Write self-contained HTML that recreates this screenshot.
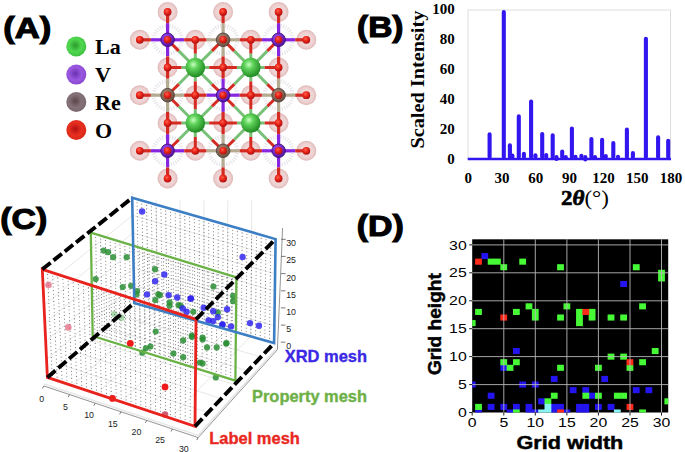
<!DOCTYPE html><html><head><meta charset="utf-8"><style>html,body{margin:0;padding:0;background:#fff;width:685px;height:452px;overflow:hidden}svg{display:block}</style></head><body>
<svg width="685" height="452" viewBox="0 0 685 452">
<defs>
<radialGradient id="gLa" cx="40%" cy="35%" r="65%"><stop offset="0" stop-color="#c8ffc0"/><stop offset="0.35" stop-color="#5fd35a"/><stop offset="1" stop-color="#1f8a22"/></radialGradient>
<radialGradient id="gV" cx="40%" cy="35%" r="65%"><stop offset="0" stop-color="#a050ff"/><stop offset="1" stop-color="#5010a0"/></radialGradient>
<radialGradient id="gRe" cx="40%" cy="35%" r="65%"><stop offset="0" stop-color="#a88c78"/><stop offset="1" stop-color="#6a5040"/></radialGradient>
<radialGradient id="gO" cx="40%" cy="35%" r="65%"><stop offset="0" stop-color="#ff6050"/><stop offset="0.5" stop-color="#e82418"/><stop offset="1" stop-color="#b01010"/></radialGradient>
<radialGradient id="gLLa" cx="45%" cy="45%" r="55%"><stop offset="0" stop-color="#2a9a2a"/><stop offset="0.6" stop-color="#50d850"/><stop offset="1" stop-color="#40c040"/></radialGradient>
<radialGradient id="gLV" cx="45%" cy="45%" r="55%"><stop offset="0" stop-color="#6a30b0"/><stop offset="0.6" stop-color="#9a58e0"/><stop offset="1" stop-color="#8a4ad0"/></radialGradient>
<radialGradient id="gLRe" cx="45%" cy="45%" r="55%"><stop offset="0" stop-color="#5a4448"/><stop offset="0.6" stop-color="#85727a"/><stop offset="1" stop-color="#7a686e"/></radialGradient>
<radialGradient id="gLO" cx="45%" cy="45%" r="55%"><stop offset="0" stop-color="#b01010"/><stop offset="0.6" stop-color="#e83020"/><stop offset="1" stop-color="#d82818"/></radialGradient>
<radialGradient id="gHalo" cx="50%" cy="50%" r="50%"><stop offset="0" stop-color="#f3dede" stop-opacity="0.8"/><stop offset="0.75" stop-color="#e8c4c4" stop-opacity="0.8"/><stop offset="1" stop-color="#d8a8a8" stop-opacity="0.85"/></radialGradient>
</defs>
<text x="3.2" y="38.4" font-family="Liberation Sans" font-weight="bold" font-size="29.5" stroke="#000" stroke-width="1.1" textLength="48" lengthAdjust="spacingAndGlyphs">(A)</text>
<circle cx="76.3" cy="46.4" r="10" fill="url(#gLLa)"/>
<text x="95" y="54.0" font-family="Liberation Serif" font-weight="bold" font-size="22">La</text>
<circle cx="76.3" cy="74.6" r="10" fill="url(#gLV)"/>
<text x="95" y="82.19999999999999" font-family="Liberation Serif" font-weight="bold" font-size="22">V</text>
<circle cx="76.3" cy="102" r="10" fill="url(#gLRe)"/>
<text x="95" y="109.6" font-family="Liberation Serif" font-weight="bold" font-size="22">Re</text>
<circle cx="76.3" cy="130" r="10" fill="url(#gLO)"/>
<text x="95" y="137.6" font-family="Liberation Serif" font-weight="bold" font-size="22">O</text>
<circle cx="139.8" cy="39.8" r="10" fill="url(#gHalo)"/>
<circle cx="139.8" cy="95.2" r="10" fill="url(#gHalo)"/>
<circle cx="139.8" cy="150.8" r="10" fill="url(#gHalo)"/>
<circle cx="167.6" cy="12.0" r="10" fill="url(#gHalo)"/>
<circle cx="167.6" cy="67.5" r="10" fill="url(#gHalo)"/>
<circle cx="167.6" cy="123.0" r="10" fill="url(#gHalo)"/>
<circle cx="167.6" cy="178.5" r="10" fill="url(#gHalo)"/>
<circle cx="195.3" cy="39.8" r="10" fill="url(#gHalo)"/>
<circle cx="195.3" cy="95.2" r="10" fill="url(#gHalo)"/>
<circle cx="195.3" cy="150.8" r="10" fill="url(#gHalo)"/>
<circle cx="223.1" cy="12.0" r="10" fill="url(#gHalo)"/>
<circle cx="223.1" cy="67.5" r="10" fill="url(#gHalo)"/>
<circle cx="223.1" cy="123.0" r="10" fill="url(#gHalo)"/>
<circle cx="223.1" cy="178.5" r="10" fill="url(#gHalo)"/>
<circle cx="250.8" cy="39.8" r="10" fill="url(#gHalo)"/>
<circle cx="250.8" cy="95.2" r="10" fill="url(#gHalo)"/>
<circle cx="250.8" cy="150.8" r="10" fill="url(#gHalo)"/>
<circle cx="278.6" cy="12.0" r="10" fill="url(#gHalo)"/>
<circle cx="278.6" cy="67.5" r="10" fill="url(#gHalo)"/>
<circle cx="278.6" cy="123.0" r="10" fill="url(#gHalo)"/>
<circle cx="278.6" cy="178.5" r="10" fill="url(#gHalo)"/>
<circle cx="306.3" cy="39.8" r="10" fill="url(#gHalo)"/>
<circle cx="306.3" cy="95.2" r="10" fill="url(#gHalo)"/>
<circle cx="306.3" cy="150.8" r="10" fill="url(#gHalo)"/>
<circle cx="167.6" cy="39.8" r="14" fill="none" stroke="#e4e0e8" stroke-width="4" stroke-dasharray="1 1.5"/>
<circle cx="167.6" cy="95.2" r="14" fill="none" stroke="#e4e0e8" stroke-width="4" stroke-dasharray="1 1.5"/>
<circle cx="167.6" cy="150.8" r="14" fill="none" stroke="#e4e0e8" stroke-width="4" stroke-dasharray="1 1.5"/>
<circle cx="223.1" cy="39.8" r="14" fill="none" stroke="#e4e0e8" stroke-width="4" stroke-dasharray="1 1.5"/>
<circle cx="223.1" cy="95.2" r="14" fill="none" stroke="#e4e0e8" stroke-width="4" stroke-dasharray="1 1.5"/>
<circle cx="223.1" cy="150.8" r="14" fill="none" stroke="#e4e0e8" stroke-width="4" stroke-dasharray="1 1.5"/>
<circle cx="278.6" cy="39.8" r="14" fill="none" stroke="#e4e0e8" stroke-width="4" stroke-dasharray="1 1.5"/>
<circle cx="278.6" cy="95.2" r="14" fill="none" stroke="#e4e0e8" stroke-width="4" stroke-dasharray="1 1.5"/>
<circle cx="278.6" cy="150.8" r="14" fill="none" stroke="#e4e0e8" stroke-width="4" stroke-dasharray="1 1.5"/>
<line x1="195.3" y1="67.5" x2="209.2" y2="67.5" stroke="#78c078" stroke-width="3.0"/>
<line x1="209.2" y1="67.5" x2="223.1" y2="67.5" stroke="#d42a22" stroke-width="3.0"/>
<line x1="195.3" y1="67.5" x2="181.4" y2="67.5" stroke="#78c078" stroke-width="3.0"/>
<line x1="181.4" y1="67.5" x2="167.6" y2="67.5" stroke="#d42a22" stroke-width="3.0"/>
<line x1="195.3" y1="67.5" x2="195.3" y2="81.4" stroke="#78c078" stroke-width="3.0"/>
<line x1="195.3" y1="81.4" x2="195.3" y2="95.2" stroke="#d42a22" stroke-width="3.0"/>
<line x1="195.3" y1="67.5" x2="195.3" y2="53.6" stroke="#78c078" stroke-width="3.0"/>
<line x1="195.3" y1="53.6" x2="195.3" y2="39.8" stroke="#d42a22" stroke-width="3.0"/>
<line x1="195.3" y1="67.5" x2="212.0" y2="84.2" stroke="#78c078" stroke-width="3.0"/>
<line x1="212.0" y1="84.2" x2="223.1" y2="95.2" stroke="#d42a22" stroke-width="3.0"/>
<line x1="195.3" y1="67.5" x2="178.7" y2="84.2" stroke="#78c078" stroke-width="3.0"/>
<line x1="178.7" y1="84.2" x2="167.6" y2="95.2" stroke="#d42a22" stroke-width="3.0"/>
<line x1="195.3" y1="67.5" x2="212.0" y2="50.9" stroke="#78c078" stroke-width="3.0"/>
<line x1="212.0" y1="50.9" x2="223.1" y2="39.8" stroke="#d42a22" stroke-width="3.0"/>
<line x1="195.3" y1="67.5" x2="178.7" y2="50.9" stroke="#78c078" stroke-width="3.0"/>
<line x1="178.7" y1="50.9" x2="167.6" y2="39.8" stroke="#d42a22" stroke-width="3.0"/>
<line x1="195.3" y1="123.0" x2="209.2" y2="123.0" stroke="#78c078" stroke-width="3.0"/>
<line x1="209.2" y1="123.0" x2="223.1" y2="123.0" stroke="#d42a22" stroke-width="3.0"/>
<line x1="195.3" y1="123.0" x2="181.4" y2="123.0" stroke="#78c078" stroke-width="3.0"/>
<line x1="181.4" y1="123.0" x2="167.6" y2="123.0" stroke="#d42a22" stroke-width="3.0"/>
<line x1="195.3" y1="123.0" x2="195.3" y2="136.9" stroke="#78c078" stroke-width="3.0"/>
<line x1="195.3" y1="136.9" x2="195.3" y2="150.8" stroke="#d42a22" stroke-width="3.0"/>
<line x1="195.3" y1="123.0" x2="195.3" y2="109.1" stroke="#78c078" stroke-width="3.0"/>
<line x1="195.3" y1="109.1" x2="195.3" y2="95.2" stroke="#d42a22" stroke-width="3.0"/>
<line x1="195.3" y1="123.0" x2="212.0" y2="139.7" stroke="#78c078" stroke-width="3.0"/>
<line x1="212.0" y1="139.7" x2="223.1" y2="150.8" stroke="#d42a22" stroke-width="3.0"/>
<line x1="195.3" y1="123.0" x2="178.7" y2="139.7" stroke="#78c078" stroke-width="3.0"/>
<line x1="178.7" y1="139.7" x2="167.6" y2="150.8" stroke="#d42a22" stroke-width="3.0"/>
<line x1="195.3" y1="123.0" x2="212.0" y2="106.3" stroke="#78c078" stroke-width="3.0"/>
<line x1="212.0" y1="106.3" x2="223.1" y2="95.2" stroke="#d42a22" stroke-width="3.0"/>
<line x1="195.3" y1="123.0" x2="178.7" y2="106.3" stroke="#78c078" stroke-width="3.0"/>
<line x1="178.7" y1="106.3" x2="167.6" y2="95.2" stroke="#d42a22" stroke-width="3.0"/>
<line x1="250.8" y1="67.5" x2="264.7" y2="67.5" stroke="#78c078" stroke-width="3.0"/>
<line x1="264.7" y1="67.5" x2="278.6" y2="67.5" stroke="#d42a22" stroke-width="3.0"/>
<line x1="250.8" y1="67.5" x2="236.9" y2="67.5" stroke="#78c078" stroke-width="3.0"/>
<line x1="236.9" y1="67.5" x2="223.1" y2="67.5" stroke="#d42a22" stroke-width="3.0"/>
<line x1="250.8" y1="67.5" x2="250.8" y2="81.4" stroke="#78c078" stroke-width="3.0"/>
<line x1="250.8" y1="81.4" x2="250.8" y2="95.2" stroke="#d42a22" stroke-width="3.0"/>
<line x1="250.8" y1="67.5" x2="250.8" y2="53.6" stroke="#78c078" stroke-width="3.0"/>
<line x1="250.8" y1="53.6" x2="250.8" y2="39.8" stroke="#d42a22" stroke-width="3.0"/>
<line x1="250.8" y1="67.5" x2="267.4" y2="84.2" stroke="#78c078" stroke-width="3.0"/>
<line x1="267.4" y1="84.2" x2="278.6" y2="95.2" stroke="#d42a22" stroke-width="3.0"/>
<line x1="250.8" y1="67.5" x2="234.2" y2="84.2" stroke="#78c078" stroke-width="3.0"/>
<line x1="234.2" y1="84.2" x2="223.1" y2="95.2" stroke="#d42a22" stroke-width="3.0"/>
<line x1="250.8" y1="67.5" x2="267.4" y2="50.9" stroke="#78c078" stroke-width="3.0"/>
<line x1="267.4" y1="50.9" x2="278.6" y2="39.8" stroke="#d42a22" stroke-width="3.0"/>
<line x1="250.8" y1="67.5" x2="234.2" y2="50.9" stroke="#78c078" stroke-width="3.0"/>
<line x1="234.2" y1="50.9" x2="223.1" y2="39.8" stroke="#d42a22" stroke-width="3.0"/>
<line x1="250.8" y1="123.0" x2="264.7" y2="123.0" stroke="#78c078" stroke-width="3.0"/>
<line x1="264.7" y1="123.0" x2="278.6" y2="123.0" stroke="#d42a22" stroke-width="3.0"/>
<line x1="250.8" y1="123.0" x2="236.9" y2="123.0" stroke="#78c078" stroke-width="3.0"/>
<line x1="236.9" y1="123.0" x2="223.1" y2="123.0" stroke="#d42a22" stroke-width="3.0"/>
<line x1="250.8" y1="123.0" x2="250.8" y2="136.9" stroke="#78c078" stroke-width="3.0"/>
<line x1="250.8" y1="136.9" x2="250.8" y2="150.8" stroke="#d42a22" stroke-width="3.0"/>
<line x1="250.8" y1="123.0" x2="250.8" y2="109.1" stroke="#78c078" stroke-width="3.0"/>
<line x1="250.8" y1="109.1" x2="250.8" y2="95.2" stroke="#d42a22" stroke-width="3.0"/>
<line x1="250.8" y1="123.0" x2="267.4" y2="139.7" stroke="#78c078" stroke-width="3.0"/>
<line x1="267.4" y1="139.7" x2="278.6" y2="150.8" stroke="#d42a22" stroke-width="3.0"/>
<line x1="250.8" y1="123.0" x2="234.2" y2="139.7" stroke="#78c078" stroke-width="3.0"/>
<line x1="234.2" y1="139.7" x2="223.1" y2="150.8" stroke="#d42a22" stroke-width="3.0"/>
<line x1="250.8" y1="123.0" x2="267.4" y2="106.3" stroke="#78c078" stroke-width="3.0"/>
<line x1="267.4" y1="106.3" x2="278.6" y2="95.2" stroke="#d42a22" stroke-width="3.0"/>
<line x1="250.8" y1="123.0" x2="234.2" y2="106.3" stroke="#78c078" stroke-width="3.0"/>
<line x1="234.2" y1="106.3" x2="223.1" y2="95.2" stroke="#d42a22" stroke-width="3.0"/>
<line x1="167.6" y1="39.8" x2="184.2" y2="39.8" stroke="#8626e0" stroke-width="3.2"/>
<line x1="184.2" y1="39.8" x2="195.3" y2="39.8" stroke="#d42a22" stroke-width="3.2"/>
<line x1="167.6" y1="39.8" x2="150.9" y2="39.8" stroke="#8626e0" stroke-width="3.2"/>
<line x1="150.9" y1="39.8" x2="139.8" y2="39.8" stroke="#d42a22" stroke-width="3.2"/>
<line x1="167.6" y1="39.8" x2="167.6" y2="56.4" stroke="#8626e0" stroke-width="3.2"/>
<line x1="167.6" y1="56.4" x2="167.6" y2="67.5" stroke="#d42a22" stroke-width="3.2"/>
<line x1="167.6" y1="39.8" x2="167.6" y2="23.1" stroke="#8626e0" stroke-width="3.2"/>
<line x1="167.6" y1="23.1" x2="167.6" y2="12.0" stroke="#d42a22" stroke-width="3.2"/>
<line x1="167.6" y1="95.2" x2="184.2" y2="95.2" stroke="#b5aa92" stroke-width="3.2"/>
<line x1="184.2" y1="95.2" x2="195.3" y2="95.2" stroke="#d42a22" stroke-width="3.2"/>
<line x1="167.6" y1="95.2" x2="150.9" y2="95.2" stroke="#b5aa92" stroke-width="3.2"/>
<line x1="150.9" y1="95.2" x2="139.8" y2="95.2" stroke="#d42a22" stroke-width="3.2"/>
<line x1="167.6" y1="95.2" x2="167.6" y2="111.9" stroke="#b5aa92" stroke-width="3.2"/>
<line x1="167.6" y1="111.9" x2="167.6" y2="123.0" stroke="#d42a22" stroke-width="3.2"/>
<line x1="167.6" y1="95.2" x2="167.6" y2="78.6" stroke="#b5aa92" stroke-width="3.2"/>
<line x1="167.6" y1="78.6" x2="167.6" y2="67.5" stroke="#d42a22" stroke-width="3.2"/>
<line x1="167.6" y1="150.8" x2="184.2" y2="150.8" stroke="#8626e0" stroke-width="3.2"/>
<line x1="184.2" y1="150.8" x2="195.3" y2="150.8" stroke="#d42a22" stroke-width="3.2"/>
<line x1="167.6" y1="150.8" x2="150.9" y2="150.8" stroke="#8626e0" stroke-width="3.2"/>
<line x1="150.9" y1="150.8" x2="139.8" y2="150.8" stroke="#d42a22" stroke-width="3.2"/>
<line x1="167.6" y1="150.8" x2="167.6" y2="167.4" stroke="#8626e0" stroke-width="3.2"/>
<line x1="167.6" y1="167.4" x2="167.6" y2="178.5" stroke="#d42a22" stroke-width="3.2"/>
<line x1="167.6" y1="150.8" x2="167.6" y2="134.1" stroke="#8626e0" stroke-width="3.2"/>
<line x1="167.6" y1="134.1" x2="167.6" y2="123.0" stroke="#d42a22" stroke-width="3.2"/>
<line x1="223.1" y1="39.8" x2="239.7" y2="39.8" stroke="#b5aa92" stroke-width="3.2"/>
<line x1="239.7" y1="39.8" x2="250.8" y2="39.8" stroke="#d42a22" stroke-width="3.2"/>
<line x1="223.1" y1="39.8" x2="206.4" y2="39.8" stroke="#b5aa92" stroke-width="3.2"/>
<line x1="206.4" y1="39.8" x2="195.3" y2="39.8" stroke="#d42a22" stroke-width="3.2"/>
<line x1="223.1" y1="39.8" x2="223.1" y2="56.4" stroke="#b5aa92" stroke-width="3.2"/>
<line x1="223.1" y1="56.4" x2="223.1" y2="67.5" stroke="#d42a22" stroke-width="3.2"/>
<line x1="223.1" y1="39.8" x2="223.1" y2="23.1" stroke="#b5aa92" stroke-width="3.2"/>
<line x1="223.1" y1="23.1" x2="223.1" y2="12.0" stroke="#d42a22" stroke-width="3.2"/>
<line x1="223.1" y1="95.2" x2="239.7" y2="95.2" stroke="#8626e0" stroke-width="3.2"/>
<line x1="239.7" y1="95.2" x2="250.8" y2="95.2" stroke="#d42a22" stroke-width="3.2"/>
<line x1="223.1" y1="95.2" x2="206.4" y2="95.2" stroke="#8626e0" stroke-width="3.2"/>
<line x1="206.4" y1="95.2" x2="195.3" y2="95.2" stroke="#d42a22" stroke-width="3.2"/>
<line x1="223.1" y1="95.2" x2="223.1" y2="111.9" stroke="#8626e0" stroke-width="3.2"/>
<line x1="223.1" y1="111.9" x2="223.1" y2="123.0" stroke="#d42a22" stroke-width="3.2"/>
<line x1="223.1" y1="95.2" x2="223.1" y2="78.6" stroke="#8626e0" stroke-width="3.2"/>
<line x1="223.1" y1="78.6" x2="223.1" y2="67.5" stroke="#d42a22" stroke-width="3.2"/>
<line x1="223.1" y1="150.8" x2="239.7" y2="150.8" stroke="#b5aa92" stroke-width="3.2"/>
<line x1="239.7" y1="150.8" x2="250.8" y2="150.8" stroke="#d42a22" stroke-width="3.2"/>
<line x1="223.1" y1="150.8" x2="206.4" y2="150.8" stroke="#b5aa92" stroke-width="3.2"/>
<line x1="206.4" y1="150.8" x2="195.3" y2="150.8" stroke="#d42a22" stroke-width="3.2"/>
<line x1="223.1" y1="150.8" x2="223.1" y2="167.4" stroke="#b5aa92" stroke-width="3.2"/>
<line x1="223.1" y1="167.4" x2="223.1" y2="178.5" stroke="#d42a22" stroke-width="3.2"/>
<line x1="223.1" y1="150.8" x2="223.1" y2="134.1" stroke="#b5aa92" stroke-width="3.2"/>
<line x1="223.1" y1="134.1" x2="223.1" y2="123.0" stroke="#d42a22" stroke-width="3.2"/>
<line x1="278.6" y1="39.8" x2="295.2" y2="39.8" stroke="#8626e0" stroke-width="3.2"/>
<line x1="295.2" y1="39.8" x2="306.3" y2="39.8" stroke="#d42a22" stroke-width="3.2"/>
<line x1="278.6" y1="39.8" x2="261.9" y2="39.8" stroke="#8626e0" stroke-width="3.2"/>
<line x1="261.9" y1="39.8" x2="250.8" y2="39.8" stroke="#d42a22" stroke-width="3.2"/>
<line x1="278.6" y1="39.8" x2="278.6" y2="56.4" stroke="#8626e0" stroke-width="3.2"/>
<line x1="278.6" y1="56.4" x2="278.6" y2="67.5" stroke="#d42a22" stroke-width="3.2"/>
<line x1="278.6" y1="39.8" x2="278.6" y2="23.1" stroke="#8626e0" stroke-width="3.2"/>
<line x1="278.6" y1="23.1" x2="278.6" y2="12.0" stroke="#d42a22" stroke-width="3.2"/>
<line x1="278.6" y1="95.2" x2="295.2" y2="95.2" stroke="#b5aa92" stroke-width="3.2"/>
<line x1="295.2" y1="95.2" x2="306.3" y2="95.2" stroke="#d42a22" stroke-width="3.2"/>
<line x1="278.6" y1="95.2" x2="261.9" y2="95.2" stroke="#b5aa92" stroke-width="3.2"/>
<line x1="261.9" y1="95.2" x2="250.8" y2="95.2" stroke="#d42a22" stroke-width="3.2"/>
<line x1="278.6" y1="95.2" x2="278.6" y2="111.9" stroke="#b5aa92" stroke-width="3.2"/>
<line x1="278.6" y1="111.9" x2="278.6" y2="123.0" stroke="#d42a22" stroke-width="3.2"/>
<line x1="278.6" y1="95.2" x2="278.6" y2="78.6" stroke="#b5aa92" stroke-width="3.2"/>
<line x1="278.6" y1="78.6" x2="278.6" y2="67.5" stroke="#d42a22" stroke-width="3.2"/>
<line x1="278.6" y1="150.8" x2="295.2" y2="150.8" stroke="#8626e0" stroke-width="3.2"/>
<line x1="295.2" y1="150.8" x2="306.3" y2="150.8" stroke="#d42a22" stroke-width="3.2"/>
<line x1="278.6" y1="150.8" x2="261.9" y2="150.8" stroke="#8626e0" stroke-width="3.2"/>
<line x1="261.9" y1="150.8" x2="250.8" y2="150.8" stroke="#d42a22" stroke-width="3.2"/>
<line x1="278.6" y1="150.8" x2="278.6" y2="167.4" stroke="#8626e0" stroke-width="3.2"/>
<line x1="278.6" y1="167.4" x2="278.6" y2="178.5" stroke="#d42a22" stroke-width="3.2"/>
<line x1="278.6" y1="150.8" x2="278.6" y2="134.1" stroke="#8626e0" stroke-width="3.2"/>
<line x1="278.6" y1="134.1" x2="278.6" y2="123.0" stroke="#d42a22" stroke-width="3.2"/>
<circle cx="167.6" cy="39.8" r="6.8" fill="url(#gV)" stroke="#3a0a70" stroke-width="0.8"/>
<circle cx="167.6" cy="39.8" r="3.8" fill="url(#gO)"/>
<circle cx="167.6" cy="95.2" r="6.8" fill="url(#gRe)" stroke="#4a3838" stroke-width="0.8"/>
<circle cx="167.6" cy="95.2" r="3.8" fill="url(#gO)"/>
<circle cx="167.6" cy="150.8" r="6.8" fill="url(#gV)" stroke="#3a0a70" stroke-width="0.8"/>
<circle cx="167.6" cy="150.8" r="3.8" fill="url(#gO)"/>
<circle cx="223.1" cy="39.8" r="6.8" fill="url(#gRe)" stroke="#4a3838" stroke-width="0.8"/>
<circle cx="223.1" cy="39.8" r="3.8" fill="url(#gO)"/>
<circle cx="223.1" cy="95.2" r="6.8" fill="url(#gV)" stroke="#3a0a70" stroke-width="0.8"/>
<circle cx="223.1" cy="95.2" r="3.8" fill="url(#gO)"/>
<circle cx="223.1" cy="150.8" r="6.8" fill="url(#gRe)" stroke="#4a3838" stroke-width="0.8"/>
<circle cx="223.1" cy="150.8" r="3.8" fill="url(#gO)"/>
<circle cx="278.6" cy="39.8" r="6.8" fill="url(#gV)" stroke="#3a0a70" stroke-width="0.8"/>
<circle cx="278.6" cy="39.8" r="3.8" fill="url(#gO)"/>
<circle cx="278.6" cy="95.2" r="6.8" fill="url(#gRe)" stroke="#4a3838" stroke-width="0.8"/>
<circle cx="278.6" cy="95.2" r="3.8" fill="url(#gO)"/>
<circle cx="278.6" cy="150.8" r="6.8" fill="url(#gV)" stroke="#3a0a70" stroke-width="0.8"/>
<circle cx="278.6" cy="150.8" r="3.8" fill="url(#gO)"/>
<circle cx="195.3" cy="67.5" r="9.8" fill="url(#gLa)"/>
<circle cx="195.3" cy="123.0" r="9.8" fill="url(#gLa)"/>
<circle cx="250.8" cy="67.5" r="9.8" fill="url(#gLa)"/>
<circle cx="250.8" cy="123.0" r="9.8" fill="url(#gLa)"/>
<circle cx="139.8" cy="39.8" r="3.9" fill="url(#gO)"/>
<circle cx="139.8" cy="95.2" r="3.9" fill="url(#gO)"/>
<circle cx="139.8" cy="150.8" r="3.9" fill="url(#gO)"/>
<circle cx="167.6" cy="12.0" r="3.9" fill="url(#gO)"/>
<circle cx="167.6" cy="67.5" r="3.9" fill="url(#gO)"/>
<circle cx="167.6" cy="123.0" r="3.9" fill="url(#gO)"/>
<circle cx="167.6" cy="178.5" r="3.9" fill="url(#gO)"/>
<circle cx="195.3" cy="39.8" r="3.9" fill="url(#gO)"/>
<circle cx="195.3" cy="95.2" r="3.9" fill="url(#gO)"/>
<circle cx="195.3" cy="150.8" r="3.9" fill="url(#gO)"/>
<circle cx="223.1" cy="12.0" r="3.9" fill="url(#gO)"/>
<circle cx="223.1" cy="67.5" r="3.9" fill="url(#gO)"/>
<circle cx="223.1" cy="123.0" r="3.9" fill="url(#gO)"/>
<circle cx="223.1" cy="178.5" r="3.9" fill="url(#gO)"/>
<circle cx="250.8" cy="39.8" r="3.9" fill="url(#gO)"/>
<circle cx="250.8" cy="95.2" r="3.9" fill="url(#gO)"/>
<circle cx="250.8" cy="150.8" r="3.9" fill="url(#gO)"/>
<circle cx="278.6" cy="12.0" r="3.9" fill="url(#gO)"/>
<circle cx="278.6" cy="67.5" r="3.9" fill="url(#gO)"/>
<circle cx="278.6" cy="123.0" r="3.9" fill="url(#gO)"/>
<circle cx="278.6" cy="178.5" r="3.9" fill="url(#gO)"/>
<circle cx="306.3" cy="39.8" r="3.9" fill="url(#gO)"/>
<circle cx="306.3" cy="95.2" r="3.9" fill="url(#gO)"/>
<circle cx="306.3" cy="150.8" r="3.9" fill="url(#gO)"/>
<text x="357" y="36.8" font-family="Liberation Sans" font-weight="bold" font-size="29.5" stroke="#000" stroke-width="1.1" textLength="46.5" lengthAdjust="spacingAndGlyphs">(B)</text>
<rect x="468" y="10" width="202.5" height="149" fill="none" stroke="#dedede" stroke-width="1"/>
<line x1="489.6" y1="157" x2="489.6" y2="134.4" stroke="#3216f0" stroke-width="4.1" stroke-linecap="round"/>
<line x1="503.8" y1="157" x2="503.8" y2="12" stroke="#3216f0" stroke-width="4.1" stroke-linecap="round"/>
<line x1="509.9" y1="157" x2="509.9" y2="145.2" stroke="#3216f0" stroke-width="4.1" stroke-linecap="round"/>
<line x1="512.4" y1="157" x2="512.4" y2="155.5" stroke="#3216f0" stroke-width="4.1" stroke-linecap="round"/>
<line x1="518.8" y1="157" x2="518.8" y2="116.4" stroke="#3216f0" stroke-width="4.1" stroke-linecap="round"/>
<line x1="523.9" y1="157" x2="523.9" y2="153.8" stroke="#3216f0" stroke-width="4.1" stroke-linecap="round"/>
<line x1="531.1" y1="157" x2="531.1" y2="101.5" stroke="#3216f0" stroke-width="4.1" stroke-linecap="round"/>
<line x1="535.4" y1="157" x2="535.4" y2="155.2" stroke="#3216f0" stroke-width="4.1" stroke-linecap="round"/>
<line x1="542.2" y1="157" x2="542.2" y2="134" stroke="#3216f0" stroke-width="4.1" stroke-linecap="round"/>
<line x1="546.2" y1="157" x2="546.2" y2="155" stroke="#3216f0" stroke-width="4.1" stroke-linecap="round"/>
<line x1="552.7" y1="157" x2="552.7" y2="135.4" stroke="#3216f0" stroke-width="4.1" stroke-linecap="round"/>
<line x1="556.5" y1="157" x2="556.5" y2="159" stroke="#3216f0" stroke-width="4.1" stroke-linecap="round"/>
<line x1="562.2" y1="157" x2="562.2" y2="151.6" stroke="#3216f0" stroke-width="4.1" stroke-linecap="round"/>
<line x1="565.8" y1="157" x2="565.8" y2="157.4" stroke="#3216f0" stroke-width="4.1" stroke-linecap="round"/>
<line x1="571.9" y1="157" x2="571.9" y2="128.6" stroke="#3216f0" stroke-width="4.1" stroke-linecap="round"/>
<line x1="575.5" y1="157" x2="575.5" y2="156.7" stroke="#3216f0" stroke-width="4.1" stroke-linecap="round"/>
<line x1="581.4" y1="157" x2="581.4" y2="155.7" stroke="#3216f0" stroke-width="4.1" stroke-linecap="round"/>
<line x1="585.3" y1="157" x2="585.3" y2="159.5" stroke="#3216f0" stroke-width="4.1" stroke-linecap="round"/>
<line x1="591.4" y1="157" x2="591.4" y2="139.1" stroke="#3216f0" stroke-width="4.1" stroke-linecap="round"/>
<line x1="595" y1="157" x2="595" y2="157.4" stroke="#3216f0" stroke-width="4.1" stroke-linecap="round"/>
<line x1="602.1" y1="157" x2="602.1" y2="139.7" stroke="#3216f0" stroke-width="4.1" stroke-linecap="round"/>
<line x1="605.8" y1="157" x2="605.8" y2="156" stroke="#3216f0" stroke-width="4.1" stroke-linecap="round"/>
<line x1="613.3" y1="157" x2="613.3" y2="143" stroke="#3216f0" stroke-width="4.1" stroke-linecap="round"/>
<line x1="618" y1="157" x2="618" y2="156.7" stroke="#3216f0" stroke-width="4.1" stroke-linecap="round"/>
<line x1="626.9" y1="157" x2="626.9" y2="129.6" stroke="#3216f0" stroke-width="4.1" stroke-linecap="round"/>
<line x1="632.9" y1="157" x2="632.9" y2="153" stroke="#3216f0" stroke-width="4.1" stroke-linecap="round"/>
<line x1="645.9" y1="157" x2="645.9" y2="38.7" stroke="#3216f0" stroke-width="4.1" stroke-linecap="round"/>
<line x1="658.1" y1="157" x2="658.1" y2="137.3" stroke="#3216f0" stroke-width="4.1" stroke-linecap="round"/>
<line x1="668.2" y1="157" x2="668.2" y2="140.8" stroke="#3216f0" stroke-width="4.1" stroke-linecap="round"/>
<line x1="467.7" y1="159" x2="671" y2="159" stroke="#3216f0" stroke-width="2.6"/>
<text x="454.7" y="14.4" text-anchor="end" font-family="Liberation Serif" font-weight="bold" font-size="15">100</text>
<text x="454.7" y="44.3" text-anchor="end" font-family="Liberation Serif" font-weight="bold" font-size="15">80</text>
<text x="454.7" y="74.2" text-anchor="end" font-family="Liberation Serif" font-weight="bold" font-size="15">60</text>
<text x="454.7" y="104.1" text-anchor="end" font-family="Liberation Serif" font-weight="bold" font-size="15">40</text>
<text x="454.7" y="134.0" text-anchor="end" font-family="Liberation Serif" font-weight="bold" font-size="15">20</text>
<text x="454.7" y="163.9" text-anchor="end" font-family="Liberation Serif" font-weight="bold" font-size="15">0</text>
<text x="468.2" y="182.6" text-anchor="middle" font-family="Liberation Serif" font-weight="bold" font-size="15">0</text>
<text x="502.0" y="182.6" text-anchor="middle" font-family="Liberation Serif" font-weight="bold" font-size="15">30</text>
<text x="535.8" y="182.6" text-anchor="middle" font-family="Liberation Serif" font-weight="bold" font-size="15">60</text>
<text x="569.6" y="182.6" text-anchor="middle" font-family="Liberation Serif" font-weight="bold" font-size="15">90</text>
<text x="603.4" y="182.6" text-anchor="middle" font-family="Liberation Serif" font-weight="bold" font-size="15">120</text>
<text x="637.2" y="182.6" text-anchor="middle" font-family="Liberation Serif" font-weight="bold" font-size="15">150</text>
<text x="671.0" y="182.6" text-anchor="middle" font-family="Liberation Serif" font-weight="bold" font-size="15">180</text>
<text transform="translate(423.8,79.6) rotate(-90)" text-anchor="middle" font-family="Liberation Serif" font-weight="bold" font-size="19" textLength="138" lengthAdjust="spacingAndGlyphs">Scaled Intensity</text>
<text x="561" y="204.8" font-family="Liberation Serif" font-size="21" textLength="48" lengthAdjust="spacingAndGlyphs"><tspan font-weight="bold" stroke="#000" stroke-width="0.6">2</tspan><tspan font-weight="bold" font-style="italic" stroke="#000" stroke-width="0.7">θ</tspan><tspan>(°)</tspan></text>
<text x="356.8" y="235.7" font-family="Liberation Sans" font-weight="bold" font-size="29" stroke="#000" stroke-width="1.1" textLength="47.1" lengthAdjust="spacingAndGlyphs">(D)</text>
<rect x="472.2" y="239.3" width="196.0" height="173.2" fill="#000"/>
<svg x="472.2" y="239.3" width="196.0" height="173.2" viewBox="472.2 239.3 196.0 173.2" overflow="hidden">
<rect x="481.41" y="253.02" width="6.81" height="6.09" fill="#2414f0"/>
<rect x="620.24" y="280.96" width="6.81" height="6.09" fill="#2414f0"/>
<rect x="512.97" y="348.00" width="6.81" height="6.09" fill="#2414f0"/>
<rect x="500.34" y="364.76" width="6.81" height="6.09" fill="#2414f0"/>
<rect x="550.83" y="375.93" width="6.81" height="6.09" fill="#2414f0"/>
<rect x="468.80" y="381.52" width="6.81" height="6.09" fill="#2414f0"/>
<rect x="519.27" y="381.52" width="6.81" height="6.09" fill="#2414f0"/>
<rect x="531.89" y="381.52" width="6.81" height="6.09" fill="#2414f0"/>
<rect x="569.75" y="387.11" width="6.81" height="6.09" fill="#2414f0"/>
<rect x="582.38" y="387.11" width="6.81" height="6.09" fill="#2414f0"/>
<rect x="632.86" y="387.11" width="6.81" height="6.09" fill="#2414f0"/>
<rect x="645.47" y="387.11" width="6.81" height="6.09" fill="#2414f0"/>
<rect x="487.72" y="392.70" width="6.81" height="6.09" fill="#2414f0"/>
<rect x="588.68" y="392.70" width="6.81" height="6.09" fill="#2414f0"/>
<rect x="538.20" y="398.28" width="6.81" height="6.09" fill="#2414f0"/>
<rect x="475.10" y="409.46" width="6.81" height="6.09" fill="#2414f0"/>
<rect x="487.72" y="403.87" width="6.81" height="6.09" fill="#2414f0"/>
<rect x="500.34" y="403.87" width="6.81" height="6.09" fill="#2414f0"/>
<rect x="506.65" y="409.46" width="6.81" height="6.09" fill="#2414f0"/>
<rect x="512.97" y="403.87" width="6.81" height="6.09" fill="#2414f0"/>
<rect x="525.59" y="403.87" width="6.81" height="6.09" fill="#2414f0"/>
<rect x="525.59" y="409.46" width="6.81" height="6.09" fill="#2414f0"/>
<rect x="531.89" y="409.46" width="6.81" height="6.09" fill="#2414f0"/>
<rect x="550.83" y="403.87" width="6.81" height="6.09" fill="#2414f0"/>
<rect x="550.83" y="409.46" width="6.81" height="6.09" fill="#2414f0"/>
<rect x="557.13" y="403.87" width="6.81" height="6.09" fill="#2414f0"/>
<rect x="563.44" y="409.46" width="6.81" height="6.09" fill="#2414f0"/>
<rect x="576.06" y="403.87" width="6.81" height="6.09" fill="#2414f0"/>
<rect x="582.38" y="403.87" width="6.81" height="6.09" fill="#2414f0"/>
<rect x="576.06" y="409.46" width="6.81" height="6.09" fill="#2414f0"/>
<rect x="582.38" y="409.46" width="6.81" height="6.09" fill="#2414f0"/>
<rect x="595.00" y="403.87" width="6.81" height="6.09" fill="#2414f0"/>
<rect x="601.30" y="375.93" width="6.81" height="6.09" fill="#2414f0"/>
<rect x="607.62" y="403.87" width="6.81" height="6.09" fill="#2414f0"/>
<rect x="487.72" y="258.61" width="6.81" height="6.09" fill="#46fa36"/>
<rect x="494.03" y="258.61" width="6.81" height="6.09" fill="#46fa36"/>
<rect x="500.34" y="264.19" width="6.81" height="6.09" fill="#46fa36"/>
<rect x="519.27" y="258.61" width="6.81" height="6.09" fill="#46fa36"/>
<rect x="557.13" y="264.19" width="6.81" height="6.09" fill="#46fa36"/>
<rect x="632.86" y="264.19" width="6.81" height="6.09" fill="#46fa36"/>
<rect x="658.10" y="275.37" width="6.81" height="6.09" fill="#46fa36"/>
<rect x="658.10" y="269.78" width="6.81" height="6.09" fill="#46fa36"/>
<rect x="475.10" y="308.89" width="6.81" height="6.09" fill="#46fa36"/>
<rect x="512.97" y="308.89" width="6.81" height="6.09" fill="#46fa36"/>
<rect x="525.59" y="303.30" width="6.81" height="6.09" fill="#46fa36"/>
<rect x="531.89" y="314.48" width="6.81" height="6.09" fill="#46fa36"/>
<rect x="531.89" y="308.89" width="6.81" height="6.09" fill="#46fa36"/>
<rect x="557.13" y="314.48" width="6.81" height="6.09" fill="#46fa36"/>
<rect x="563.44" y="303.30" width="6.81" height="6.09" fill="#46fa36"/>
<rect x="468.80" y="320.06" width="6.81" height="6.09" fill="#46fa36"/>
<rect x="576.06" y="320.06" width="6.81" height="6.09" fill="#46fa36"/>
<rect x="576.06" y="314.48" width="6.81" height="6.09" fill="#46fa36"/>
<rect x="576.06" y="308.89" width="6.81" height="6.09" fill="#46fa36"/>
<rect x="588.68" y="314.48" width="6.81" height="6.09" fill="#46fa36"/>
<rect x="588.68" y="308.89" width="6.81" height="6.09" fill="#46fa36"/>
<rect x="607.62" y="314.48" width="6.81" height="6.09" fill="#46fa36"/>
<rect x="620.24" y="314.48" width="6.81" height="6.09" fill="#46fa36"/>
<rect x="639.16" y="303.30" width="6.81" height="6.09" fill="#46fa36"/>
<rect x="651.78" y="348.00" width="6.81" height="6.09" fill="#46fa36"/>
<rect x="607.62" y="353.59" width="6.81" height="6.09" fill="#46fa36"/>
<rect x="620.24" y="353.59" width="6.81" height="6.09" fill="#46fa36"/>
<rect x="639.16" y="359.17" width="6.81" height="6.09" fill="#46fa36"/>
<rect x="595.00" y="364.76" width="6.81" height="6.09" fill="#46fa36"/>
<rect x="626.54" y="364.76" width="6.81" height="6.09" fill="#46fa36"/>
<rect x="500.34" y="359.17" width="6.81" height="6.09" fill="#46fa36"/>
<rect x="512.97" y="359.17" width="6.81" height="6.09" fill="#46fa36"/>
<rect x="506.65" y="364.76" width="6.81" height="6.09" fill="#46fa36"/>
<rect x="557.13" y="364.76" width="6.81" height="6.09" fill="#46fa36"/>
<rect x="550.83" y="392.70" width="6.81" height="6.09" fill="#46fa36"/>
<rect x="544.51" y="398.28" width="6.81" height="6.09" fill="#46fa36"/>
<rect x="475.10" y="403.87" width="6.81" height="6.09" fill="#46fa36"/>
<rect x="512.97" y="409.46" width="6.81" height="6.09" fill="#46fa36"/>
<rect x="582.38" y="392.70" width="6.81" height="6.09" fill="#46fa36"/>
<rect x="595.00" y="392.70" width="6.81" height="6.09" fill="#46fa36"/>
<rect x="613.92" y="392.70" width="6.81" height="6.09" fill="#46fa36"/>
<rect x="620.24" y="392.70" width="6.81" height="6.09" fill="#46fa36"/>
<rect x="664.40" y="398.28" width="6.81" height="6.09" fill="#46fa36"/>
<rect x="639.16" y="409.46" width="6.81" height="6.09" fill="#46fa36"/>
<rect x="475.10" y="258.61" width="6.81" height="6.09" fill="#ff2a1a"/>
<rect x="500.34" y="314.48" width="6.81" height="6.09" fill="#ff2a1a"/>
<rect x="582.38" y="308.89" width="6.81" height="6.09" fill="#ff2a1a"/>
<rect x="626.54" y="359.17" width="6.81" height="6.09" fill="#ff2a1a"/>
<rect x="557.13" y="409.46" width="6.81" height="6.09" fill="#ff2a1a"/>
<rect x="626.54" y="403.87" width="6.81" height="6.09" fill="#ff2a1a"/>
<rect x="538.20" y="409.46" width="6.81" height="6.09" fill="#88f4f4"/>
<rect x="544.51" y="409.46" width="6.81" height="6.09" fill="#88f4f4"/>
<rect x="544.51" y="403.87" width="6.81" height="6.09" fill="#88f4f4"/>
<rect x="613.92" y="409.46" width="6.81" height="6.09" fill="#88f4f4"/>
</svg>
<line x1="503.8" y1="239.3" x2="503.8" y2="412.5" stroke="#b8b8b8" stroke-width="0.9"/>
<line x1="472.2" y1="384.6" x2="668.2" y2="384.6" stroke="#b8b8b8" stroke-width="0.9"/>
<line x1="535.3" y1="239.3" x2="535.3" y2="412.5" stroke="#b8b8b8" stroke-width="0.9"/>
<line x1="472.2" y1="356.6" x2="668.2" y2="356.6" stroke="#b8b8b8" stroke-width="0.9"/>
<line x1="566.9" y1="239.3" x2="566.9" y2="412.5" stroke="#b8b8b8" stroke-width="0.9"/>
<line x1="472.2" y1="328.7" x2="668.2" y2="328.7" stroke="#b8b8b8" stroke-width="0.9"/>
<line x1="598.4" y1="239.3" x2="598.4" y2="412.5" stroke="#b8b8b8" stroke-width="0.9"/>
<line x1="472.2" y1="300.8" x2="668.2" y2="300.8" stroke="#b8b8b8" stroke-width="0.9"/>
<line x1="630.0" y1="239.3" x2="630.0" y2="412.5" stroke="#b8b8b8" stroke-width="0.9"/>
<line x1="472.2" y1="272.8" x2="668.2" y2="272.8" stroke="#b8b8b8" stroke-width="0.9"/>
<line x1="661.5" y1="239.3" x2="661.5" y2="412.5" stroke="#b8b8b8" stroke-width="0.9"/>
<line x1="472.2" y1="244.9" x2="668.2" y2="244.9" stroke="#b8b8b8" stroke-width="0.9"/>
<line x1="472.2" y1="412.5" x2="472.2" y2="415.5" stroke="#000" stroke-width="0.9"/>
<text x="472.2" y="426.8" text-anchor="middle" font-family="Liberation Sans" font-size="13" textLength="8.8" lengthAdjust="spacingAndGlyphs">0</text>
<line x1="469.2" y1="412.5" x2="472.2" y2="412.5" stroke="#000" stroke-width="0.9"/>
<text x="466.7" y="417.1" text-anchor="end" font-family="Liberation Sans" font-size="13" textLength="8.8" lengthAdjust="spacingAndGlyphs">0</text>
<line x1="503.8" y1="412.5" x2="503.8" y2="415.5" stroke="#000" stroke-width="0.9"/>
<text x="503.8" y="426.8" text-anchor="middle" font-family="Liberation Sans" font-size="13" textLength="8.8" lengthAdjust="spacingAndGlyphs">5</text>
<line x1="469.2" y1="384.6" x2="472.2" y2="384.6" stroke="#000" stroke-width="0.9"/>
<text x="466.7" y="389.2" text-anchor="end" font-family="Liberation Sans" font-size="13" textLength="8.8" lengthAdjust="spacingAndGlyphs">5</text>
<line x1="535.3" y1="412.5" x2="535.3" y2="415.5" stroke="#000" stroke-width="0.9"/>
<text x="535.3" y="426.8" text-anchor="middle" font-family="Liberation Sans" font-size="13" textLength="17.6" lengthAdjust="spacingAndGlyphs">10</text>
<line x1="469.2" y1="356.6" x2="472.2" y2="356.6" stroke="#000" stroke-width="0.9"/>
<text x="466.7" y="361.2" text-anchor="end" font-family="Liberation Sans" font-size="13" textLength="17.6" lengthAdjust="spacingAndGlyphs">10</text>
<line x1="566.9" y1="412.5" x2="566.9" y2="415.5" stroke="#000" stroke-width="0.9"/>
<text x="566.9" y="426.8" text-anchor="middle" font-family="Liberation Sans" font-size="13" textLength="17.6" lengthAdjust="spacingAndGlyphs">15</text>
<line x1="469.2" y1="328.7" x2="472.2" y2="328.7" stroke="#000" stroke-width="0.9"/>
<text x="466.7" y="333.3" text-anchor="end" font-family="Liberation Sans" font-size="13" textLength="17.6" lengthAdjust="spacingAndGlyphs">15</text>
<line x1="598.4" y1="412.5" x2="598.4" y2="415.5" stroke="#000" stroke-width="0.9"/>
<text x="598.4" y="426.8" text-anchor="middle" font-family="Liberation Sans" font-size="13" textLength="17.6" lengthAdjust="spacingAndGlyphs">20</text>
<line x1="469.2" y1="300.8" x2="472.2" y2="300.8" stroke="#000" stroke-width="0.9"/>
<text x="466.7" y="305.4" text-anchor="end" font-family="Liberation Sans" font-size="13" textLength="17.6" lengthAdjust="spacingAndGlyphs">20</text>
<line x1="630.0" y1="412.5" x2="630.0" y2="415.5" stroke="#000" stroke-width="0.9"/>
<text x="630.0" y="426.8" text-anchor="middle" font-family="Liberation Sans" font-size="13" textLength="17.6" lengthAdjust="spacingAndGlyphs">25</text>
<line x1="469.2" y1="272.8" x2="472.2" y2="272.8" stroke="#000" stroke-width="0.9"/>
<text x="466.7" y="277.4" text-anchor="end" font-family="Liberation Sans" font-size="13" textLength="17.6" lengthAdjust="spacingAndGlyphs">25</text>
<line x1="661.5" y1="412.5" x2="661.5" y2="415.5" stroke="#000" stroke-width="0.9"/>
<text x="661.5" y="426.8" text-anchor="middle" font-family="Liberation Sans" font-size="13" textLength="17.6" lengthAdjust="spacingAndGlyphs">30</text>
<line x1="469.2" y1="244.9" x2="472.2" y2="244.9" stroke="#000" stroke-width="0.9"/>
<text x="466.7" y="249.5" text-anchor="end" font-family="Liberation Sans" font-size="13" textLength="17.6" lengthAdjust="spacingAndGlyphs">30</text>
<text x="516.5" y="448.5" font-family="Liberation Sans" font-weight="bold" font-size="17.5" stroke="#000" stroke-width="0.45" textLength="106.8" lengthAdjust="spacingAndGlyphs">Grid width</text>
<text transform="translate(441,375.1) rotate(-90)" font-family="Liberation Sans" font-weight="bold" font-size="17.5" stroke="#000" stroke-width="0.45" textLength="102" lengthAdjust="spacingAndGlyphs">Grid height</text>
<text x="0.3" y="229.1" font-family="Liberation Sans" font-weight="bold" font-size="30" stroke="#000" stroke-width="1.1" textLength="47" lengthAdjust="spacingAndGlyphs">(C)</text>
<path d="M72.0 385.5L157.6 309.6M61.9 365.0L208.2 412.4M46.5 359.4L134.0 285.4M96.6 393.7L180.9 316.3M76.4 352.6L221.4 398.6M45.7 341.4L133.6 267.9M121.2 401.9L204.2 323.0M90.8 340.1L234.6 384.7M44.8 323.4L133.2 250.3M145.8 410.0L227.5 329.7M105.3 327.7L247.7 370.8M44.0 305.3L132.9 232.8M170.4 418.1L250.8 336.4M119.8 315.3L260.9 357.0M43.1 287.3L132.5 215.3M42.3 263.3L42.3 269.3M90.8 226.6L90.8 232.6M132.2 191.8L132.2 197.8M156.1 200.5L156.1 204.7M180.0 200.5L180.0 211.6M203.9 200.5L203.9 218.4M227.8 200.5L227.8 225.3M251.7 200.5L251.7 232.2M132.5 215.3L275.4 256.4M156.1 204.7L157.6 309.6M132.9 232.8L275.1 273.8M180.0 211.6L180.9 316.3M133.2 250.3L274.9 291.1M203.9 218.4L204.2 323.0M133.6 267.9L274.6 308.4M227.8 225.3L227.5 329.7M134.0 285.4L274.4 325.8M251.7 232.2L250.8 336.4" stroke="#dcdcdc" stroke-width="0.7" fill="none"/>
<path d="M132.2 197.8h.01M132.3 201.3h.01M132.3 204.8h.01M132.4 208.3h.01M132.5 211.8h.01M132.5 215.3h.01M132.6 218.8h.01M132.7 222.3h.01M132.8 225.8h.01M132.8 229.3h.01M132.9 232.8h.01M133.0 236.3h.01M133.0 239.8h.01M133.1 243.3h.01M133.2 246.8h.01M133.2 250.3h.01M133.3 253.9h.01M133.4 257.4h.01M133.5 260.9h.01M133.5 264.4h.01M133.6 267.9h.01M133.7 271.4h.01M133.7 274.9h.01M133.8 278.4h.01M133.9 281.9h.01M134.0 285.4h.01M134.0 288.9h.01M134.1 292.4h.01M134.2 295.9h.01M134.2 299.4h.01M134.3 302.9h.01M137.0 199.2h.01M137.0 202.7h.01M137.1 206.2h.01M137.2 209.7h.01M137.2 213.2h.01M137.3 216.7h.01M137.4 220.2h.01M137.4 223.7h.01M137.5 227.2h.01M137.6 230.7h.01M137.6 234.2h.01M137.7 237.7h.01M137.8 241.2h.01M137.8 244.7h.01M137.9 248.2h.01M138.0 251.7h.01M138.0 255.2h.01M138.1 258.7h.01M138.2 262.2h.01M138.2 265.7h.01M138.3 269.2h.01M138.4 272.7h.01M138.4 276.2h.01M138.5 279.7h.01M138.6 283.2h.01M138.6 286.7h.01M138.7 290.2h.01M138.8 293.7h.01M138.8 297.2h.01M138.9 300.7h.01M139.0 304.2h.01M141.8 200.6h.01M141.8 204.1h.01M141.9 207.6h.01M141.9 211.1h.01M142.0 214.6h.01M142.1 218.1h.01M142.1 221.6h.01M142.2 225.1h.01M142.3 228.6h.01M142.3 232.1h.01M142.4 235.6h.01M142.4 239.1h.01M142.5 242.6h.01M142.6 246.1h.01M142.6 249.6h.01M142.7 253.1h.01M142.8 256.6h.01M142.8 260.1h.01M142.9 263.6h.01M142.9 267.1h.01M143.0 270.6h.01M143.1 274.1h.01M143.1 277.6h.01M143.2 281.1h.01M143.2 284.6h.01M143.3 288.1h.01M143.4 291.6h.01M143.4 295.1h.01M143.5 298.6h.01M143.6 302.1h.01M143.6 305.6h.01M146.5 201.9h.01M146.6 205.4h.01M146.7 208.9h.01M146.7 212.4h.01M146.8 215.9h.01M146.8 219.4h.01M146.9 222.9h.01M146.9 226.4h.01M147.0 229.9h.01M147.1 233.4h.01M147.1 236.9h.01M147.2 240.4h.01M147.2 243.9h.01M147.3 247.4h.01M147.4 250.9h.01M147.4 254.4h.01M147.5 257.9h.01M147.5 261.4h.01M147.6 264.9h.01M147.6 268.4h.01M147.7 271.9h.01M147.8 275.4h.01M147.8 278.9h.01M147.9 282.4h.01M147.9 285.9h.01M148.0 289.4h.01M148.0 292.9h.01M148.1 296.4h.01M148.2 299.9h.01M148.2 303.4h.01M148.3 306.9h.01M151.3 203.3h.01M151.4 206.8h.01M151.4 210.3h.01M151.5 213.8h.01M151.5 217.3h.01M151.6 220.8h.01M151.6 224.3h.01M151.7 227.8h.01M151.8 231.3h.01M151.8 234.8h.01M151.9 238.3h.01M151.9 241.8h.01M152.0 245.3h.01M152.0 248.8h.01M152.1 252.3h.01M152.1 255.8h.01M152.2 259.3h.01M152.2 262.8h.01M152.3 266.3h.01M152.3 269.8h.01M152.4 273.3h.01M152.5 276.8h.01M152.5 280.3h.01M152.6 283.8h.01M152.6 287.3h.01M152.7 290.8h.01M152.7 294.3h.01M152.8 297.8h.01M152.8 301.3h.01M152.9 304.8h.01M152.9 308.3h.01M156.1 204.7h.01M156.2 208.2h.01M156.2 211.7h.01M156.2 215.2h.01M156.3 218.7h.01M156.3 222.2h.01M156.4 225.7h.01M156.4 229.2h.01M156.5 232.7h.01M156.6 236.2h.01M156.6 239.7h.01M156.7 243.2h.01M156.7 246.6h.01M156.8 250.1h.01M156.8 253.6h.01M156.9 257.1h.01M156.9 260.6h.01M157.0 264.1h.01M157.0 267.6h.01M157.1 271.1h.01M157.1 274.6h.01M157.2 278.1h.01M157.2 281.6h.01M157.3 285.1h.01M157.3 288.6h.01M157.4 292.1h.01M157.4 295.6h.01M157.5 299.1h.01M157.5 302.6h.01M157.6 306.1h.01M157.6 309.6h.01M160.9 206.1h.01M160.9 209.6h.01M161.0 213.1h.01M161.0 216.5h.01M161.1 220.0h.01M161.1 223.5h.01M161.2 227.0h.01M161.2 230.5h.01M161.2 234.0h.01M161.3 237.5h.01M161.3 241.0h.01M161.4 244.5h.01M161.4 248.0h.01M161.5 251.5h.01M161.5 255.0h.01M161.6 258.5h.01M161.6 262.0h.01M161.7 265.5h.01M161.7 269.0h.01M161.8 272.5h.01M161.8 276.0h.01M161.8 279.5h.01M161.9 283.0h.01M161.9 286.5h.01M162.0 290.0h.01M162.0 293.5h.01M162.1 297.0h.01M162.1 300.5h.01M162.2 303.9h.01M162.2 307.4h.01M162.3 310.9h.01M165.7 207.4h.01M165.7 210.9h.01M165.7 214.4h.01M165.8 217.9h.01M165.8 221.4h.01M165.9 224.9h.01M165.9 228.4h.01M166.0 231.9h.01M166.0 235.4h.01M166.0 238.9h.01M166.1 242.4h.01M166.1 245.9h.01M166.2 249.4h.01M166.2 252.9h.01M166.2 256.4h.01M166.3 259.9h.01M166.3 263.4h.01M166.4 266.8h.01M166.4 270.3h.01M166.5 273.8h.01M166.5 277.3h.01M166.5 280.8h.01M166.6 284.3h.01M166.6 287.8h.01M166.7 291.3h.01M166.7 294.8h.01M166.8 298.3h.01M166.8 301.8h.01M166.8 305.3h.01M166.9 308.8h.01M166.9 312.3h.01M170.4 208.8h.01M170.5 212.3h.01M170.5 215.8h.01M170.6 219.3h.01M170.6 222.8h.01M170.6 226.3h.01M170.7 229.8h.01M170.7 233.3h.01M170.7 236.8h.01M170.8 240.3h.01M170.8 243.7h.01M170.9 247.2h.01M170.9 250.7h.01M170.9 254.2h.01M171.0 257.7h.01M171.0 261.2h.01M171.0 264.7h.01M171.1 268.2h.01M171.1 271.7h.01M171.2 275.2h.01M171.2 278.7h.01M171.2 282.2h.01M171.3 285.7h.01M171.3 289.2h.01M171.4 292.7h.01M171.4 296.2h.01M171.4 299.6h.01M171.5 303.1h.01M171.5 306.6h.01M171.5 310.1h.01M171.6 313.6h.01M175.2 210.2h.01M175.3 213.7h.01M175.3 217.2h.01M175.3 220.7h.01M175.4 224.2h.01M175.4 227.7h.01M175.4 231.1h.01M175.5 234.6h.01M175.5 238.1h.01M175.5 241.6h.01M175.6 245.1h.01M175.6 248.6h.01M175.6 252.1h.01M175.7 255.6h.01M175.7 259.1h.01M175.7 262.6h.01M175.8 266.1h.01M175.8 269.6h.01M175.8 273.1h.01M175.9 276.5h.01M175.9 280.0h.01M175.9 283.5h.01M176.0 287.0h.01M176.0 290.5h.01M176.0 294.0h.01M176.1 297.5h.01M176.1 301.0h.01M176.1 304.5h.01M176.2 308.0h.01M176.2 311.5h.01M176.2 315.0h.01M180.0 211.6h.01M180.0 215.1h.01M180.1 218.5h.01M180.1 222.0h.01M180.1 225.5h.01M180.2 229.0h.01M180.2 232.5h.01M180.2 236.0h.01M180.2 239.5h.01M180.3 243.0h.01M180.3 246.5h.01M180.3 250.0h.01M180.4 253.5h.01M180.4 257.0h.01M180.4 260.4h.01M180.4 263.9h.01M180.5 267.4h.01M180.5 270.9h.01M180.5 274.4h.01M180.6 277.9h.01M180.6 281.4h.01M180.6 284.9h.01M180.7 288.4h.01M180.7 291.9h.01M180.7 295.4h.01M180.8 298.8h.01M180.8 302.3h.01M180.8 305.8h.01M180.8 309.3h.01M180.9 312.8h.01M180.9 316.3h.01M184.8 212.9h.01M184.8 216.4h.01M184.8 219.9h.01M184.9 223.4h.01M184.9 226.9h.01M184.9 230.4h.01M184.9 233.9h.01M185.0 237.4h.01M185.0 240.9h.01M185.0 244.4h.01M185.0 247.8h.01M185.1 251.3h.01M185.1 254.8h.01M185.1 258.3h.01M185.1 261.8h.01M185.2 265.3h.01M185.2 268.8h.01M185.2 272.3h.01M185.2 275.8h.01M185.3 279.3h.01M185.3 282.7h.01M185.3 286.2h.01M185.4 289.7h.01M185.4 293.2h.01M185.4 296.7h.01M185.4 300.2h.01M185.5 303.7h.01M185.5 307.2h.01M185.5 310.7h.01M185.5 314.2h.01M185.6 317.6h.01M189.6 214.3h.01M189.6 217.8h.01M189.6 221.3h.01M189.6 224.8h.01M189.6 228.3h.01M189.7 231.8h.01M189.7 235.3h.01M189.7 238.7h.01M189.7 242.2h.01M189.8 245.7h.01M189.8 249.2h.01M189.8 252.7h.01M189.8 256.2h.01M189.8 259.7h.01M189.9 263.2h.01M189.9 266.6h.01M189.9 270.1h.01M189.9 273.6h.01M190.0 277.1h.01M190.0 280.6h.01M190.0 284.1h.01M190.0 287.6h.01M190.0 291.1h.01M190.1 294.6h.01M190.1 298.0h.01M190.1 301.5h.01M190.1 305.0h.01M190.2 308.5h.01M190.2 312.0h.01M190.2 315.5h.01M190.2 319.0h.01M194.3 215.7h.01M194.4 219.2h.01M194.4 222.7h.01M194.4 226.2h.01M194.4 229.6h.01M194.4 233.1h.01M194.4 236.6h.01M194.5 240.1h.01M194.5 243.6h.01M194.5 247.1h.01M194.5 250.6h.01M194.5 254.1h.01M194.6 257.5h.01M194.6 261.0h.01M194.6 264.5h.01M194.6 268.0h.01M194.6 271.5h.01M194.6 275.0h.01M194.7 278.5h.01M194.7 282.0h.01M194.7 285.4h.01M194.7 288.9h.01M194.7 292.4h.01M194.8 295.9h.01M194.8 299.4h.01M194.8 302.9h.01M194.8 306.4h.01M194.8 309.9h.01M194.8 313.3h.01M194.9 316.8h.01M194.9 320.3h.01M199.1 217.1h.01M199.1 220.6h.01M199.1 224.0h.01M199.2 227.5h.01M199.2 231.0h.01M199.2 234.5h.01M199.2 238.0h.01M199.2 241.5h.01M199.2 245.0h.01M199.2 248.4h.01M199.3 251.9h.01M199.3 255.4h.01M199.3 258.9h.01M199.3 262.4h.01M199.3 265.9h.01M199.3 269.4h.01M199.3 272.9h.01M199.4 276.3h.01M199.4 279.8h.01M199.4 283.3h.01M199.4 286.8h.01M199.4 290.3h.01M199.4 293.8h.01M199.4 297.3h.01M199.5 300.7h.01M199.5 304.2h.01M199.5 307.7h.01M199.5 311.2h.01M199.5 314.7h.01M199.5 318.2h.01M199.5 321.7h.01M203.9 218.4h.01M203.9 221.9h.01M203.9 225.4h.01M203.9 228.9h.01M203.9 232.4h.01M204.0 235.9h.01M204.0 239.4h.01M204.0 242.8h.01M204.0 246.3h.01M204.0 249.8h.01M204.0 253.3h.01M204.0 256.8h.01M204.0 260.3h.01M204.0 263.8h.01M204.0 267.2h.01M204.1 270.7h.01M204.1 274.2h.01M204.1 277.7h.01M204.1 281.2h.01M204.1 284.7h.01M204.1 288.1h.01M204.1 291.6h.01M204.1 295.1h.01M204.1 298.6h.01M204.1 302.1h.01M204.2 305.6h.01M204.2 309.1h.01M204.2 312.5h.01M204.2 316.0h.01M204.2 319.5h.01M204.2 323.0h.01M208.7 219.8h.01M208.7 223.3h.01M208.7 226.8h.01M208.7 230.3h.01M208.7 233.8h.01M208.7 237.2h.01M208.7 240.7h.01M208.7 244.2h.01M208.7 247.7h.01M208.7 251.2h.01M208.7 254.7h.01M208.7 258.1h.01M208.8 261.6h.01M208.8 265.1h.01M208.8 268.6h.01M208.8 272.1h.01M208.8 275.6h.01M208.8 279.1h.01M208.8 282.5h.01M208.8 286.0h.01M208.8 289.5h.01M208.8 293.0h.01M208.8 296.5h.01M208.8 300.0h.01M208.8 303.4h.01M208.8 306.9h.01M208.8 310.4h.01M208.8 313.9h.01M208.8 317.4h.01M208.9 320.9h.01M208.9 324.3h.01M213.5 221.2h.01M213.5 224.7h.01M213.5 228.2h.01M213.5 231.7h.01M213.5 235.1h.01M213.5 238.6h.01M213.5 242.1h.01M213.5 245.6h.01M213.5 249.1h.01M213.5 252.5h.01M213.5 256.0h.01M213.5 259.5h.01M213.5 263.0h.01M213.5 266.5h.01M213.5 270.0h.01M213.5 273.4h.01M213.5 276.9h.01M213.5 280.4h.01M213.5 283.9h.01M213.5 287.4h.01M213.5 290.9h.01M213.5 294.3h.01M213.5 297.8h.01M213.5 301.3h.01M213.5 304.8h.01M213.5 308.3h.01M213.5 311.7h.01M213.5 315.2h.01M213.5 318.7h.01M213.5 322.2h.01M213.5 325.7h.01M218.2 222.6h.01M218.2 226.1h.01M218.2 229.5h.01M218.2 233.0h.01M218.2 236.5h.01M218.2 240.0h.01M218.2 243.5h.01M218.2 246.9h.01M218.2 250.4h.01M218.2 253.9h.01M218.2 257.4h.01M218.2 260.9h.01M218.2 264.4h.01M218.2 267.8h.01M218.2 271.3h.01M218.2 274.8h.01M218.2 278.3h.01M218.2 281.8h.01M218.2 285.2h.01M218.2 288.7h.01M218.2 292.2h.01M218.2 295.7h.01M218.2 299.2h.01M218.2 302.7h.01M218.2 306.1h.01M218.2 309.6h.01M218.2 313.1h.01M218.2 316.6h.01M218.2 320.1h.01M218.2 323.5h.01M218.2 327.0h.01M223.0 224.0h.01M223.0 227.4h.01M223.0 230.9h.01M223.0 234.4h.01M223.0 237.9h.01M223.0 241.4h.01M223.0 244.8h.01M223.0 248.3h.01M223.0 251.8h.01M223.0 255.3h.01M223.0 258.8h.01M223.0 262.2h.01M222.9 265.7h.01M222.9 269.2h.01M222.9 272.7h.01M222.9 276.2h.01M222.9 279.6h.01M222.9 283.1h.01M222.9 286.6h.01M222.9 290.1h.01M222.9 293.6h.01M222.9 297.0h.01M222.9 300.5h.01M222.9 304.0h.01M222.9 307.5h.01M222.9 311.0h.01M222.9 314.4h.01M222.9 317.9h.01M222.9 321.4h.01M222.8 324.9h.01M222.8 328.4h.01M227.8 225.3h.01M227.8 228.8h.01M227.8 232.3h.01M227.8 235.8h.01M227.8 239.2h.01M227.8 242.7h.01M227.7 246.2h.01M227.7 249.7h.01M227.7 253.2h.01M227.7 256.6h.01M227.7 260.1h.01M227.7 263.6h.01M227.7 267.1h.01M227.7 270.6h.01M227.7 274.0h.01M227.7 277.5h.01M227.6 281.0h.01M227.6 284.5h.01M227.6 288.0h.01M227.6 291.4h.01M227.6 294.9h.01M227.6 298.4h.01M227.6 301.9h.01M227.6 305.3h.01M227.6 308.8h.01M227.6 312.3h.01M227.5 315.8h.01M227.5 319.3h.01M227.5 322.7h.01M227.5 326.2h.01M227.5 329.7h.01M232.6 226.7h.01M232.6 230.2h.01M232.6 233.7h.01M232.5 237.1h.01M232.5 240.6h.01M232.5 244.1h.01M232.5 247.6h.01M232.5 251.1h.01M232.5 254.5h.01M232.5 258.0h.01M232.4 261.5h.01M232.4 265.0h.01M232.4 268.4h.01M232.4 271.9h.01M232.4 275.4h.01M232.4 278.9h.01M232.4 282.4h.01M232.3 285.8h.01M232.3 289.3h.01M232.3 292.8h.01M232.3 296.3h.01M232.3 299.7h.01M232.3 303.2h.01M232.3 306.7h.01M232.2 310.2h.01M232.2 313.7h.01M232.2 317.1h.01M232.2 320.6h.01M232.2 324.1h.01M232.2 327.6h.01M232.2 331.0h.01M237.4 228.1h.01M237.3 231.6h.01M237.3 235.0h.01M237.3 238.5h.01M237.3 242.0h.01M237.3 245.5h.01M237.3 248.9h.01M237.2 252.4h.01M237.2 255.9h.01M237.2 259.4h.01M237.2 262.9h.01M237.2 266.3h.01M237.1 269.8h.01M237.1 273.3h.01M237.1 276.8h.01M237.1 280.2h.01M237.1 283.7h.01M237.1 287.2h.01M237.0 290.7h.01M237.0 294.1h.01M237.0 297.6h.01M237.0 301.1h.01M237.0 304.6h.01M236.9 308.0h.01M236.9 311.5h.01M236.9 315.0h.01M236.9 318.5h.01M236.9 322.0h.01M236.9 325.4h.01M236.8 328.9h.01M236.8 332.4h.01M242.1 229.5h.01M242.1 232.9h.01M242.1 236.4h.01M242.1 239.9h.01M242.1 243.4h.01M242.0 246.8h.01M242.0 250.3h.01M242.0 253.8h.01M242.0 257.3h.01M241.9 260.7h.01M241.9 264.2h.01M241.9 267.7h.01M241.9 271.2h.01M241.9 274.6h.01M241.8 278.1h.01M241.8 281.6h.01M241.8 285.1h.01M241.8 288.5h.01M241.7 292.0h.01M241.7 295.5h.01M241.7 299.0h.01M241.7 302.4h.01M241.7 305.9h.01M241.6 309.4h.01M241.6 312.9h.01M241.6 316.3h.01M241.6 319.8h.01M241.5 323.3h.01M241.5 326.8h.01M241.5 330.2h.01M241.5 333.7h.01M246.9 230.8h.01M246.9 234.3h.01M246.9 237.8h.01M246.8 241.3h.01M246.8 244.7h.01M246.8 248.2h.01M246.8 251.7h.01M246.7 255.2h.01M246.7 258.6h.01M246.7 262.1h.01M246.7 265.6h.01M246.6 269.1h.01M246.6 272.5h.01M246.6 276.0h.01M246.6 279.5h.01M246.5 282.9h.01M246.5 286.4h.01M246.5 289.9h.01M246.5 293.4h.01M246.4 296.8h.01M246.4 300.3h.01M246.4 303.8h.01M246.3 307.3h.01M246.3 310.7h.01M246.3 314.2h.01M246.3 317.7h.01M246.2 321.2h.01M246.2 324.6h.01M246.2 328.1h.01M246.2 331.6h.01M246.1 335.1h.01M251.7 232.2h.01M251.7 235.7h.01M251.6 239.2h.01M251.6 242.6h.01M251.6 246.1h.01M251.6 249.6h.01M251.5 253.1h.01M251.5 256.5h.01M251.5 260.0h.01M251.4 263.5h.01M251.4 266.9h.01M251.4 270.4h.01M251.3 273.9h.01M251.3 277.4h.01M251.3 280.8h.01M251.2 284.3h.01M251.2 287.8h.01M251.2 291.3h.01M251.2 294.7h.01M251.1 298.2h.01M251.1 301.7h.01M251.1 305.1h.01M251.0 308.6h.01M251.0 312.1h.01M251.0 315.6h.01M251.0 319.0h.01M250.9 322.5h.01M250.9 326.0h.01M250.9 329.5h.01M250.8 332.9h.01M250.8 336.4h.01M256.5 233.6h.01M256.4 237.1h.01M256.4 240.5h.01M256.4 244.0h.01M256.3 247.5h.01M256.3 251.0h.01M256.3 254.4h.01M256.2 257.9h.01M256.2 261.4h.01M256.2 264.8h.01M256.1 268.3h.01M256.1 271.8h.01M256.1 275.3h.01M256.0 278.7h.01M256.0 282.2h.01M256.0 285.7h.01M255.9 289.1h.01M255.9 292.6h.01M255.9 296.1h.01M255.8 299.6h.01M255.8 303.0h.01M255.8 306.5h.01M255.7 310.0h.01M255.7 313.4h.01M255.7 316.9h.01M255.6 320.4h.01M255.6 323.9h.01M255.6 327.3h.01M255.5 330.8h.01M255.5 334.3h.01M255.5 337.7h.01M261.3 235.0h.01M261.2 238.4h.01M261.2 241.9h.01M261.1 245.4h.01M261.1 248.9h.01M261.1 252.3h.01M261.0 255.8h.01M261.0 259.3h.01M261.0 262.7h.01M260.9 266.2h.01M260.9 269.7h.01M260.8 273.1h.01M260.8 276.6h.01M260.8 280.1h.01M260.7 283.6h.01M260.7 287.0h.01M260.7 290.5h.01M260.6 294.0h.01M260.6 297.4h.01M260.5 300.9h.01M260.5 304.4h.01M260.5 307.8h.01M260.4 311.3h.01M260.4 314.8h.01M260.3 318.3h.01M260.3 321.7h.01M260.3 325.2h.01M260.2 328.7h.01M260.2 332.1h.01M260.2 335.6h.01M260.1 339.1h.01M266.0 236.3h.01M266.0 239.8h.01M266.0 243.3h.01M265.9 246.8h.01M265.9 250.2h.01M265.8 253.7h.01M265.8 257.2h.01M265.7 260.6h.01M265.7 264.1h.01M265.7 267.6h.01M265.6 271.0h.01M265.6 274.5h.01M265.5 278.0h.01M265.5 281.4h.01M265.5 284.9h.01M265.4 288.4h.01M265.4 291.9h.01M265.3 295.3h.01M265.3 298.8h.01M265.2 302.3h.01M265.2 305.7h.01M265.2 309.2h.01M265.1 312.7h.01M265.1 316.1h.01M265.0 319.6h.01M265.0 323.1h.01M264.9 326.5h.01M264.9 330.0h.01M264.9 333.5h.01M264.8 337.0h.01M264.8 340.4h.01M270.8 237.7h.01M270.8 241.2h.01M270.7 244.7h.01M270.7 248.1h.01M270.6 251.6h.01M270.6 255.1h.01M270.5 258.5h.01M270.5 262.0h.01M270.5 265.5h.01M270.4 268.9h.01M270.4 272.4h.01M270.3 275.9h.01M270.3 279.3h.01M270.2 282.8h.01M270.2 286.3h.01M270.1 289.7h.01M270.1 293.2h.01M270.0 296.7h.01M270.0 300.1h.01M269.9 303.6h.01M269.9 307.1h.01M269.9 310.5h.01M269.8 314.0h.01M269.8 317.5h.01M269.7 321.0h.01M269.7 324.4h.01M269.6 327.9h.01M269.6 331.4h.01M269.5 334.8h.01M269.5 338.3h.01M269.4 341.8h.01M275.6 239.1h.01M275.6 242.6h.01M275.5 246.0h.01M275.5 249.5h.01M275.4 253.0h.01M275.4 256.4h.01M275.3 259.9h.01M275.2 263.4h.01M275.2 266.8h.01M275.2 270.3h.01M275.1 273.8h.01M275.1 277.2h.01M275.0 280.7h.01M275.0 284.2h.01M274.9 287.6h.01M274.9 291.1h.01M274.8 294.6h.01M274.8 298.0h.01M274.7 301.5h.01M274.7 305.0h.01M274.6 308.4h.01M274.6 311.9h.01M274.5 315.4h.01M274.5 318.8h.01M274.4 322.3h.01M274.4 325.8h.01M274.3 329.2h.01M274.2 332.7h.01M274.2 336.2h.01M274.2 339.6h.01M274.1 343.1h.01" stroke="#3a3a3a" stroke-opacity="0.72" stroke-width="1.1" stroke-linecap="round" fill="none"/>
<path d="M90.8 232.6h.01M90.9 236.0h.01M90.9 239.5h.01M91.0 242.9h.01M91.1 246.4h.01M91.1 249.8h.01M91.2 253.3h.01M91.2 256.7h.01M91.3 260.2h.01M91.4 263.6h.01M91.4 267.1h.01M91.5 270.5h.01M91.6 274.0h.01M91.6 277.4h.01M91.7 280.9h.01M91.8 284.3h.01M91.8 287.7h.01M91.9 291.2h.01M91.9 294.6h.01M92.0 298.1h.01M92.1 301.5h.01M92.1 305.0h.01M92.2 308.4h.01M92.3 311.9h.01M92.3 315.3h.01M92.4 318.8h.01M92.4 322.2h.01M92.5 325.7h.01M92.6 329.1h.01M92.6 332.6h.01M92.7 336.0h.01M95.7 234.1h.01M95.7 237.5h.01M95.8 241.0h.01M95.8 244.4h.01M95.9 247.9h.01M96.0 251.3h.01M96.0 254.8h.01M96.1 258.2h.01M96.1 261.7h.01M96.2 265.1h.01M96.3 268.6h.01M96.3 272.0h.01M96.4 275.5h.01M96.4 278.9h.01M96.5 282.3h.01M96.6 285.8h.01M96.6 289.2h.01M96.7 292.7h.01M96.7 296.1h.01M96.8 299.6h.01M96.9 303.0h.01M96.9 306.5h.01M97.0 309.9h.01M97.0 313.4h.01M97.1 316.8h.01M97.2 320.3h.01M97.2 323.7h.01M97.3 327.2h.01M97.3 330.6h.01M97.4 334.0h.01M97.5 337.5h.01M100.5 235.6h.01M100.6 239.0h.01M100.6 242.5h.01M100.7 245.9h.01M100.7 249.4h.01M100.8 252.8h.01M100.8 256.3h.01M100.9 259.7h.01M101.0 263.2h.01M101.0 266.6h.01M101.1 270.1h.01M101.1 273.5h.01M101.2 276.9h.01M101.2 280.4h.01M101.3 283.8h.01M101.4 287.3h.01M101.4 290.7h.01M101.5 294.2h.01M101.5 297.6h.01M101.6 301.1h.01M101.6 304.5h.01M101.7 308.0h.01M101.8 311.4h.01M101.8 314.9h.01M101.9 318.3h.01M101.9 321.7h.01M102.0 325.2h.01M102.0 328.6h.01M102.1 332.1h.01M102.2 335.5h.01M102.2 339.0h.01M105.4 237.1h.01M105.4 240.5h.01M105.5 244.0h.01M105.5 247.4h.01M105.6 250.9h.01M105.6 254.3h.01M105.7 257.8h.01M105.7 261.2h.01M105.8 264.7h.01M105.8 268.1h.01M105.9 271.5h.01M106.0 275.0h.01M106.0 278.4h.01M106.1 281.9h.01M106.1 285.3h.01M106.2 288.8h.01M106.2 292.2h.01M106.3 295.7h.01M106.3 299.1h.01M106.4 302.6h.01M106.4 306.0h.01M106.5 309.5h.01M106.5 312.9h.01M106.6 316.3h.01M106.6 319.8h.01M106.7 323.2h.01M106.8 326.7h.01M106.8 330.1h.01M106.9 333.6h.01M106.9 337.0h.01M107.0 340.5h.01M110.2 238.6h.01M110.3 242.0h.01M110.3 245.5h.01M110.4 248.9h.01M110.4 252.4h.01M110.5 255.8h.01M110.5 259.3h.01M110.6 262.7h.01M110.6 266.1h.01M110.7 269.6h.01M110.7 273.0h.01M110.8 276.5h.01M110.8 279.9h.01M110.9 283.4h.01M110.9 286.8h.01M111.0 290.3h.01M111.0 293.7h.01M111.1 297.2h.01M111.1 300.6h.01M111.2 304.1h.01M111.2 307.5h.01M111.3 310.9h.01M111.3 314.4h.01M111.4 317.8h.01M111.4 321.3h.01M111.5 324.7h.01M111.5 328.2h.01M111.6 331.6h.01M111.6 335.1h.01M111.7 338.5h.01M111.7 342.0h.01M115.1 240.1h.01M115.1 243.5h.01M115.2 247.0h.01M115.2 250.4h.01M115.3 253.9h.01M115.3 257.3h.01M115.3 260.7h.01M115.4 264.2h.01M115.4 267.6h.01M115.5 271.1h.01M115.5 274.5h.01M115.6 278.0h.01M115.6 281.4h.01M115.7 284.9h.01M115.7 288.3h.01M115.8 291.8h.01M115.8 295.2h.01M115.9 298.7h.01M115.9 302.1h.01M116.0 305.5h.01M116.0 309.0h.01M116.1 312.4h.01M116.1 315.9h.01M116.2 319.3h.01M116.2 322.8h.01M116.2 326.2h.01M116.3 329.7h.01M116.3 333.1h.01M116.4 336.6h.01M116.4 340.0h.01M116.5 343.4h.01M119.9 241.6h.01M120.0 245.0h.01M120.0 248.5h.01M120.1 251.9h.01M120.1 255.3h.01M120.1 258.8h.01M120.2 262.2h.01M120.2 265.7h.01M120.3 269.1h.01M120.3 272.6h.01M120.4 276.0h.01M120.4 279.5h.01M120.4 282.9h.01M120.5 286.4h.01M120.5 289.8h.01M120.6 293.2h.01M120.6 296.7h.01M120.7 300.1h.01M120.7 303.6h.01M120.8 307.0h.01M120.8 310.5h.01M120.8 313.9h.01M120.9 317.4h.01M120.9 320.8h.01M121.0 324.3h.01M121.0 327.7h.01M121.1 331.2h.01M121.1 334.6h.01M121.2 338.0h.01M121.2 341.5h.01M121.2 344.9h.01M124.8 243.1h.01M124.8 246.5h.01M124.9 249.9h.01M124.9 253.4h.01M124.9 256.8h.01M125.0 260.3h.01M125.0 263.7h.01M125.1 267.2h.01M125.1 270.6h.01M125.1 274.1h.01M125.2 277.5h.01M125.2 281.0h.01M125.3 284.4h.01M125.3 287.8h.01M125.3 291.3h.01M125.4 294.7h.01M125.4 298.2h.01M125.5 301.6h.01M125.5 305.1h.01M125.5 308.5h.01M125.6 312.0h.01M125.6 315.4h.01M125.7 318.9h.01M125.7 322.3h.01M125.8 325.8h.01M125.8 329.2h.01M125.8 332.6h.01M125.9 336.1h.01M125.9 339.5h.01M126.0 343.0h.01M126.0 346.4h.01M129.6 244.5h.01M129.7 248.0h.01M129.7 251.4h.01M129.7 254.9h.01M129.8 258.3h.01M129.8 261.8h.01M129.9 265.2h.01M129.9 268.7h.01M129.9 272.1h.01M130.0 275.6h.01M130.0 279.0h.01M130.0 282.5h.01M130.1 285.9h.01M130.1 289.3h.01M130.2 292.8h.01M130.2 296.2h.01M130.2 299.7h.01M130.3 303.1h.01M130.3 306.6h.01M130.3 310.0h.01M130.4 313.5h.01M130.4 316.9h.01M130.5 320.4h.01M130.5 323.8h.01M130.5 327.2h.01M130.6 330.7h.01M130.6 334.1h.01M130.6 337.6h.01M130.7 341.0h.01M130.7 344.5h.01M130.8 347.9h.01M134.5 246.0h.01M134.5 249.5h.01M134.5 252.9h.01M134.6 256.4h.01M134.6 259.8h.01M134.7 263.3h.01M134.7 266.7h.01M134.7 270.2h.01M134.8 273.6h.01M134.8 277.1h.01M134.8 280.5h.01M134.9 283.9h.01M134.9 287.4h.01M134.9 290.8h.01M135.0 294.3h.01M135.0 297.7h.01M135.0 301.2h.01M135.1 304.6h.01M135.1 308.1h.01M135.1 311.5h.01M135.2 315.0h.01M135.2 318.4h.01M135.2 321.8h.01M135.3 325.3h.01M135.3 328.7h.01M135.3 332.2h.01M135.4 335.6h.01M135.4 339.1h.01M135.4 342.5h.01M135.5 346.0h.01M135.5 349.4h.01M139.3 247.5h.01M139.4 251.0h.01M139.4 254.4h.01M139.4 257.9h.01M139.5 261.3h.01M139.5 264.8h.01M139.5 268.2h.01M139.6 271.7h.01M139.6 275.1h.01M139.6 278.5h.01M139.6 282.0h.01M139.7 285.4h.01M139.7 288.9h.01M139.7 292.3h.01M139.8 295.8h.01M139.8 299.2h.01M139.8 302.7h.01M139.9 306.1h.01M139.9 309.6h.01M139.9 313.0h.01M140.0 316.4h.01M140.0 319.9h.01M140.0 323.3h.01M140.0 326.8h.01M140.1 330.2h.01M140.1 333.7h.01M140.1 337.1h.01M140.2 340.6h.01M140.2 344.0h.01M140.2 347.5h.01M140.3 350.9h.01M144.2 249.0h.01M144.2 252.5h.01M144.2 255.9h.01M144.3 259.4h.01M144.3 262.8h.01M144.3 266.3h.01M144.4 269.7h.01M144.4 273.1h.01M144.4 276.6h.01M144.4 280.0h.01M144.5 283.5h.01M144.5 286.9h.01M144.5 290.4h.01M144.5 293.8h.01M144.6 297.3h.01M144.6 300.7h.01M144.6 304.2h.01M144.7 307.6h.01M144.7 311.0h.01M144.7 314.5h.01M144.7 317.9h.01M144.8 321.4h.01M144.8 324.8h.01M144.8 328.3h.01M144.9 331.7h.01M144.9 335.2h.01M144.9 338.6h.01M144.9 342.1h.01M145.0 345.5h.01M145.0 348.9h.01M145.0 352.4h.01M149.0 250.5h.01M149.1 254.0h.01M149.1 257.4h.01M149.1 260.9h.01M149.1 264.3h.01M149.2 267.7h.01M149.2 271.2h.01M149.2 274.6h.01M149.2 278.1h.01M149.3 281.5h.01M149.3 285.0h.01M149.3 288.4h.01M149.3 291.9h.01M149.4 295.3h.01M149.4 298.8h.01M149.4 302.2h.01M149.4 305.6h.01M149.5 309.1h.01M149.5 312.5h.01M149.5 316.0h.01M149.5 319.4h.01M149.6 322.9h.01M149.6 326.3h.01M149.6 329.8h.01M149.6 333.2h.01M149.7 336.7h.01M149.7 340.1h.01M149.7 343.5h.01M149.7 347.0h.01M149.8 350.4h.01M149.8 353.9h.01M153.9 252.0h.01M153.9 255.5h.01M153.9 258.9h.01M154.0 262.3h.01M154.0 265.8h.01M154.0 269.2h.01M154.0 272.7h.01M154.0 276.1h.01M154.1 279.6h.01M154.1 283.0h.01M154.1 286.5h.01M154.1 289.9h.01M154.2 293.4h.01M154.2 296.8h.01M154.2 300.2h.01M154.2 303.7h.01M154.2 307.1h.01M154.3 310.6h.01M154.3 314.0h.01M154.3 317.5h.01M154.3 320.9h.01M154.3 324.4h.01M154.4 327.8h.01M154.4 331.3h.01M154.4 334.7h.01M154.4 338.1h.01M154.5 341.6h.01M154.5 345.0h.01M154.5 348.5h.01M154.5 351.9h.01M154.5 355.4h.01M158.7 253.5h.01M158.8 257.0h.01M158.8 260.4h.01M158.8 263.8h.01M158.8 267.3h.01M158.8 270.7h.01M158.9 274.2h.01M158.9 277.6h.01M158.9 281.1h.01M158.9 284.5h.01M158.9 288.0h.01M158.9 291.4h.01M159.0 294.8h.01M159.0 298.3h.01M159.0 301.7h.01M159.0 305.2h.01M159.0 308.6h.01M159.1 312.1h.01M159.1 315.5h.01M159.1 319.0h.01M159.1 322.4h.01M159.1 325.9h.01M159.1 329.3h.01M159.2 332.7h.01M159.2 336.2h.01M159.2 339.6h.01M159.2 343.1h.01M159.2 346.5h.01M159.3 350.0h.01M159.3 353.4h.01M159.3 356.9h.01M163.6 255.0h.01M163.6 258.4h.01M163.6 261.9h.01M163.6 265.3h.01M163.7 268.8h.01M163.7 272.2h.01M163.7 275.7h.01M163.7 279.1h.01M163.7 282.6h.01M163.7 286.0h.01M163.8 289.4h.01M163.8 292.9h.01M163.8 296.3h.01M163.8 299.8h.01M163.8 303.2h.01M163.8 306.7h.01M163.8 310.1h.01M163.9 313.6h.01M163.9 317.0h.01M163.9 320.5h.01M163.9 323.9h.01M163.9 327.3h.01M163.9 330.8h.01M163.9 334.2h.01M164.0 337.7h.01M164.0 341.1h.01M164.0 344.6h.01M164.0 348.0h.01M164.0 351.5h.01M164.0 354.9h.01M164.1 358.4h.01M168.5 256.5h.01M168.5 259.9h.01M168.5 263.4h.01M168.5 266.8h.01M168.5 270.3h.01M168.5 273.7h.01M168.5 277.2h.01M168.5 280.6h.01M168.5 284.1h.01M168.6 287.5h.01M168.6 290.9h.01M168.6 294.4h.01M168.6 297.8h.01M168.6 301.3h.01M168.6 304.7h.01M168.6 308.2h.01M168.6 311.6h.01M168.7 315.1h.01M168.7 318.5h.01M168.7 321.9h.01M168.7 325.4h.01M168.7 328.8h.01M168.7 332.3h.01M168.7 335.7h.01M168.7 339.2h.01M168.7 342.6h.01M168.8 346.1h.01M168.8 349.5h.01M168.8 353.0h.01M168.8 356.4h.01M168.8 359.8h.01M173.3 258.0h.01M173.3 261.4h.01M173.3 264.9h.01M173.3 268.3h.01M173.3 271.8h.01M173.3 275.2h.01M173.4 278.7h.01M173.4 282.1h.01M173.4 285.5h.01M173.4 289.0h.01M173.4 292.4h.01M173.4 295.9h.01M173.4 299.3h.01M173.4 302.8h.01M173.4 306.2h.01M173.4 309.7h.01M173.4 313.1h.01M173.5 316.5h.01M173.5 320.0h.01M173.5 323.4h.01M173.5 326.9h.01M173.5 330.3h.01M173.5 333.8h.01M173.5 337.2h.01M173.5 340.7h.01M173.5 344.1h.01M173.5 347.6h.01M173.5 351.0h.01M173.5 354.4h.01M173.6 357.9h.01M173.6 361.3h.01M178.2 259.5h.01M178.2 262.9h.01M178.2 266.4h.01M178.2 269.8h.01M178.2 273.3h.01M178.2 276.7h.01M178.2 280.1h.01M178.2 283.6h.01M178.2 287.0h.01M178.2 290.5h.01M178.2 293.9h.01M178.2 297.4h.01M178.2 300.8h.01M178.2 304.3h.01M178.2 307.7h.01M178.2 311.1h.01M178.2 314.6h.01M178.3 318.0h.01M178.3 321.5h.01M178.3 324.9h.01M178.3 328.4h.01M178.3 331.8h.01M178.3 335.3h.01M178.3 338.7h.01M178.3 342.2h.01M178.3 345.6h.01M178.3 349.0h.01M178.3 352.5h.01M178.3 355.9h.01M178.3 359.4h.01M178.3 362.8h.01M183.0 261.0h.01M183.0 264.4h.01M183.0 267.9h.01M183.0 271.3h.01M183.0 274.8h.01M183.0 278.2h.01M183.0 281.6h.01M183.0 285.1h.01M183.0 288.5h.01M183.0 292.0h.01M183.0 295.4h.01M183.0 298.9h.01M183.0 302.3h.01M183.0 305.8h.01M183.0 309.2h.01M183.0 312.6h.01M183.0 316.1h.01M183.0 319.5h.01M183.1 323.0h.01M183.1 326.4h.01M183.1 329.9h.01M183.1 333.3h.01M183.1 336.8h.01M183.1 340.2h.01M183.1 343.6h.01M183.1 347.1h.01M183.1 350.5h.01M183.1 354.0h.01M183.1 357.4h.01M183.1 360.9h.01M183.1 364.3h.01M187.9 262.5h.01M187.9 265.9h.01M187.9 269.4h.01M187.9 272.8h.01M187.9 276.2h.01M187.9 279.7h.01M187.9 283.1h.01M187.9 286.6h.01M187.9 290.0h.01M187.9 293.5h.01M187.9 296.9h.01M187.9 300.4h.01M187.9 303.8h.01M187.9 307.2h.01M187.9 310.7h.01M187.8 314.1h.01M187.8 317.6h.01M187.8 321.0h.01M187.8 324.5h.01M187.8 327.9h.01M187.8 331.4h.01M187.8 334.8h.01M187.8 338.2h.01M187.8 341.7h.01M187.8 345.1h.01M187.8 348.6h.01M187.8 352.0h.01M187.8 355.5h.01M187.8 358.9h.01M187.8 362.4h.01M187.8 365.8h.01M192.7 264.0h.01M192.7 267.4h.01M192.7 270.8h.01M192.7 274.3h.01M192.7 277.7h.01M192.7 281.2h.01M192.7 284.6h.01M192.7 288.1h.01M192.7 291.5h.01M192.7 295.0h.01M192.7 298.4h.01M192.7 301.8h.01M192.7 305.3h.01M192.7 308.7h.01M192.7 312.2h.01M192.7 315.6h.01M192.7 319.1h.01M192.6 322.5h.01M192.6 326.0h.01M192.6 329.4h.01M192.6 332.8h.01M192.6 336.3h.01M192.6 339.7h.01M192.6 343.2h.01M192.6 346.6h.01M192.6 350.1h.01M192.6 353.5h.01M192.6 357.0h.01M192.6 360.4h.01M192.6 363.8h.01M192.6 367.3h.01M197.6 265.5h.01M197.6 268.9h.01M197.6 272.3h.01M197.6 275.8h.01M197.5 279.2h.01M197.5 282.7h.01M197.5 286.1h.01M197.5 289.6h.01M197.5 293.0h.01M197.5 296.5h.01M197.5 299.9h.01M197.5 303.3h.01M197.5 306.8h.01M197.5 310.2h.01M197.5 313.7h.01M197.5 317.1h.01M197.5 320.6h.01M197.4 324.0h.01M197.4 327.4h.01M197.4 330.9h.01M197.4 334.3h.01M197.4 337.8h.01M197.4 341.2h.01M197.4 344.7h.01M197.4 348.1h.01M197.4 351.6h.01M197.4 355.0h.01M197.4 358.4h.01M197.4 361.9h.01M197.4 365.3h.01M197.3 368.8h.01M202.4 266.9h.01M202.4 270.4h.01M202.4 273.8h.01M202.4 277.3h.01M202.4 280.7h.01M202.4 284.2h.01M202.4 287.6h.01M202.4 291.1h.01M202.3 294.5h.01M202.3 297.9h.01M202.3 301.4h.01M202.3 304.8h.01M202.3 308.3h.01M202.3 311.7h.01M202.3 315.2h.01M202.3 318.6h.01M202.3 322.1h.01M202.2 325.5h.01M202.2 328.9h.01M202.2 332.4h.01M202.2 335.8h.01M202.2 339.3h.01M202.2 342.7h.01M202.2 346.2h.01M202.2 349.6h.01M202.2 353.0h.01M202.1 356.5h.01M202.1 359.9h.01M202.1 363.4h.01M202.1 366.8h.01M202.1 370.3h.01M207.3 268.4h.01M207.3 271.9h.01M207.3 275.3h.01M207.2 278.8h.01M207.2 282.2h.01M207.2 285.7h.01M207.2 289.1h.01M207.2 292.5h.01M207.2 296.0h.01M207.2 299.4h.01M207.1 302.9h.01M207.1 306.3h.01M207.1 309.8h.01M207.1 313.2h.01M207.1 316.7h.01M207.1 320.1h.01M207.1 323.5h.01M207.0 327.0h.01M207.0 330.4h.01M207.0 333.9h.01M207.0 337.3h.01M207.0 340.8h.01M207.0 344.2h.01M207.0 347.7h.01M206.9 351.1h.01M206.9 354.5h.01M206.9 358.0h.01M206.9 361.4h.01M206.9 364.9h.01M206.9 368.3h.01M206.9 371.8h.01M212.1 269.9h.01M212.1 273.4h.01M212.1 276.8h.01M212.1 280.3h.01M212.1 283.7h.01M212.0 287.2h.01M212.0 290.6h.01M212.0 294.0h.01M212.0 297.5h.01M212.0 300.9h.01M212.0 304.4h.01M211.9 307.8h.01M211.9 311.3h.01M211.9 314.7h.01M211.9 318.1h.01M211.9 321.6h.01M211.9 325.0h.01M211.8 328.5h.01M211.8 331.9h.01M211.8 335.4h.01M211.8 338.8h.01M211.8 342.3h.01M211.8 345.7h.01M211.7 349.1h.01M211.7 352.6h.01M211.7 356.0h.01M211.7 359.5h.01M211.7 362.9h.01M211.7 366.4h.01M211.6 369.8h.01M211.6 373.2h.01M217.0 271.4h.01M217.0 274.9h.01M216.9 278.3h.01M216.9 281.8h.01M216.9 285.2h.01M216.9 288.6h.01M216.9 292.1h.01M216.8 295.5h.01M216.8 299.0h.01M216.8 302.4h.01M216.8 305.9h.01M216.8 309.3h.01M216.7 312.8h.01M216.7 316.2h.01M216.7 319.6h.01M216.7 323.1h.01M216.7 326.5h.01M216.6 330.0h.01M216.6 333.4h.01M216.6 336.9h.01M216.6 340.3h.01M216.6 343.7h.01M216.5 347.2h.01M216.5 350.6h.01M216.5 354.1h.01M216.5 357.5h.01M216.5 361.0h.01M216.4 364.4h.01M216.4 367.9h.01M216.4 371.3h.01M216.4 374.7h.01M221.8 272.9h.01M221.8 276.4h.01M221.8 279.8h.01M221.8 283.3h.01M221.7 286.7h.01M221.7 290.1h.01M221.7 293.6h.01M221.7 297.0h.01M221.7 300.5h.01M221.6 303.9h.01M221.6 307.4h.01M221.6 310.8h.01M221.6 314.2h.01M221.5 317.7h.01M221.5 321.1h.01M221.5 324.6h.01M221.5 328.0h.01M221.4 331.5h.01M221.4 334.9h.01M221.4 338.3h.01M221.4 341.8h.01M221.3 345.2h.01M221.3 348.7h.01M221.3 352.1h.01M221.3 355.6h.01M221.2 359.0h.01M221.2 362.5h.01M221.2 365.9h.01M221.2 369.3h.01M221.2 372.8h.01M221.1 376.2h.01M226.7 274.4h.01M226.7 277.9h.01M226.6 281.3h.01M226.6 284.7h.01M226.6 288.2h.01M226.6 291.6h.01M226.5 295.1h.01M226.5 298.5h.01M226.5 302.0h.01M226.5 305.4h.01M226.4 308.8h.01M226.4 312.3h.01M226.4 315.7h.01M226.3 319.2h.01M226.3 322.6h.01M226.3 326.1h.01M226.3 329.5h.01M226.2 333.0h.01M226.2 336.4h.01M226.2 339.8h.01M226.2 343.3h.01M226.1 346.7h.01M226.1 350.2h.01M226.1 353.6h.01M226.0 357.1h.01M226.0 360.5h.01M226.0 363.9h.01M226.0 367.4h.01M225.9 370.8h.01M225.9 374.3h.01M225.9 377.7h.01M231.5 275.9h.01M231.5 279.4h.01M231.5 282.8h.01M231.5 286.2h.01M231.4 289.7h.01M231.4 293.1h.01M231.4 296.6h.01M231.3 300.0h.01M231.3 303.5h.01M231.3 306.9h.01M231.2 310.3h.01M231.2 313.8h.01M231.2 317.2h.01M231.2 320.7h.01M231.1 324.1h.01M231.1 327.6h.01M231.1 331.0h.01M231.0 334.4h.01M231.0 337.9h.01M231.0 341.3h.01M230.9 344.8h.01M230.9 348.2h.01M230.9 351.7h.01M230.9 355.1h.01M230.8 358.5h.01M230.8 362.0h.01M230.8 365.4h.01M230.7 368.9h.01M230.7 372.3h.01M230.7 375.8h.01M230.6 379.2h.01M236.4 277.4h.01M236.4 280.8h.01M236.3 284.3h.01M236.3 287.7h.01M236.3 291.2h.01M236.2 294.6h.01M236.2 298.1h.01M236.2 301.5h.01M236.1 304.9h.01M236.1 308.4h.01M236.1 311.8h.01M236.0 315.3h.01M236.0 318.7h.01M236.0 322.2h.01M235.9 325.6h.01M235.9 329.0h.01M235.9 332.5h.01M235.8 335.9h.01M235.8 339.4h.01M235.8 342.8h.01M235.7 346.3h.01M235.7 349.7h.01M235.7 353.2h.01M235.6 356.6h.01M235.6 360.0h.01M235.6 363.5h.01M235.5 366.9h.01M235.5 370.4h.01M235.5 373.8h.01M235.4 377.3h.01M235.4 380.7h.01" stroke="#3a3a3a" stroke-opacity="0.72" stroke-width="1.1" stroke-linecap="round" fill="none"/>
<path d="M42.3 269.3h.01M42.5 272.9h.01M42.6 276.5h.01M42.8 280.1h.01M43.0 283.7h.01M43.1 287.3h.01M43.3 290.9h.01M43.5 294.5h.01M43.7 298.1h.01M43.8 301.7h.01M44.0 305.3h.01M44.2 308.9h.01M44.3 312.5h.01M44.5 316.1h.01M44.7 319.7h.01M44.8 323.4h.01M45.0 327.0h.01M45.2 330.6h.01M45.4 334.2h.01M45.5 337.8h.01M45.7 341.4h.01M45.9 345.0h.01M46.0 348.6h.01M46.2 352.2h.01M46.4 355.8h.01M46.5 359.4h.01M46.7 363.0h.01M46.9 366.6h.01M47.1 370.2h.01M47.2 373.8h.01M47.4 377.4h.01M47.4 271.0h.01M47.6 274.6h.01M47.7 278.2h.01M47.9 281.8h.01M48.1 285.4h.01M48.2 289.0h.01M48.4 292.6h.01M48.6 296.2h.01M48.7 299.8h.01M48.9 303.4h.01M49.1 307.0h.01M49.2 310.6h.01M49.4 314.2h.01M49.5 317.8h.01M49.7 321.4h.01M49.9 325.0h.01M50.0 328.6h.01M50.2 332.2h.01M50.4 335.8h.01M50.5 339.4h.01M50.7 343.0h.01M50.9 346.6h.01M51.0 350.2h.01M51.2 353.8h.01M51.3 357.4h.01M51.5 361.0h.01M51.7 364.6h.01M51.8 368.2h.01M52.0 371.8h.01M52.2 375.4h.01M52.3 379.0h.01M52.5 272.6h.01M52.7 276.2h.01M52.9 279.8h.01M53.0 283.4h.01M53.2 287.0h.01M53.3 290.6h.01M53.5 294.2h.01M53.6 297.8h.01M53.8 301.4h.01M54.0 305.0h.01M54.1 308.6h.01M54.3 312.2h.01M54.4 315.8h.01M54.6 319.4h.01M54.7 323.0h.01M54.9 326.6h.01M55.0 330.2h.01M55.2 333.8h.01M55.4 337.4h.01M55.5 341.1h.01M55.7 344.7h.01M55.8 348.3h.01M56.0 351.9h.01M56.1 355.5h.01M56.3 359.1h.01M56.5 362.7h.01M56.6 366.3h.01M56.8 369.9h.01M56.9 373.5h.01M57.1 377.1h.01M57.2 380.7h.01M57.7 274.3h.01M57.8 277.9h.01M58.0 281.5h.01M58.1 285.1h.01M58.3 288.7h.01M58.4 292.3h.01M58.6 295.9h.01M58.7 299.5h.01M58.9 303.1h.01M59.0 306.7h.01M59.2 310.3h.01M59.3 313.9h.01M59.5 317.5h.01M59.6 321.1h.01M59.8 324.7h.01M59.9 328.3h.01M60.1 331.9h.01M60.2 335.5h.01M60.4 339.1h.01M60.5 342.7h.01M60.7 346.3h.01M60.8 349.9h.01M61.0 353.5h.01M61.1 357.1h.01M61.3 360.7h.01M61.4 364.3h.01M61.6 367.9h.01M61.7 371.5h.01M61.9 375.1h.01M62.0 378.7h.01M62.2 382.3h.01M62.8 276.0h.01M62.9 279.6h.01M63.1 283.2h.01M63.2 286.8h.01M63.4 290.4h.01M63.5 294.0h.01M63.7 297.6h.01M63.8 301.2h.01M63.9 304.8h.01M64.1 308.4h.01M64.2 312.0h.01M64.4 315.5h.01M64.5 319.1h.01M64.7 322.7h.01M64.8 326.3h.01M64.9 329.9h.01M65.1 333.5h.01M65.2 337.1h.01M65.4 340.7h.01M65.5 344.3h.01M65.7 347.9h.01M65.8 351.5h.01M65.9 355.1h.01M66.1 358.7h.01M66.2 362.3h.01M66.4 365.9h.01M66.5 369.5h.01M66.7 373.1h.01M66.8 376.7h.01M66.9 380.3h.01M67.1 383.9h.01M67.9 277.6h.01M68.1 281.2h.01M68.2 284.8h.01M68.3 288.4h.01M68.5 292.0h.01M68.6 295.6h.01M68.7 299.2h.01M68.9 302.8h.01M69.0 306.4h.01M69.1 310.0h.01M69.3 313.6h.01M69.4 317.2h.01M69.5 320.8h.01M69.7 324.4h.01M69.8 328.0h.01M70.0 331.6h.01M70.1 335.2h.01M70.2 338.8h.01M70.4 342.4h.01M70.5 346.0h.01M70.6 349.6h.01M70.8 353.2h.01M70.9 356.8h.01M71.0 360.4h.01M71.2 364.0h.01M71.3 367.6h.01M71.5 371.2h.01M71.6 374.8h.01M71.7 378.4h.01M71.9 382.0h.01M72.0 385.5h.01M73.0 279.3h.01M73.2 282.9h.01M73.3 286.5h.01M73.4 290.1h.01M73.6 293.7h.01M73.7 297.3h.01M73.8 300.9h.01M73.9 304.5h.01M74.1 308.1h.01M74.2 311.7h.01M74.3 315.3h.01M74.5 318.9h.01M74.6 322.5h.01M74.7 326.0h.01M74.9 329.6h.01M75.0 333.2h.01M75.1 336.8h.01M75.2 340.4h.01M75.4 344.0h.01M75.5 347.6h.01M75.6 351.2h.01M75.8 354.8h.01M75.9 358.4h.01M76.0 362.0h.01M76.1 365.6h.01M76.3 369.2h.01M76.4 372.8h.01M76.5 376.4h.01M76.7 380.0h.01M76.8 383.6h.01M76.9 387.2h.01M78.2 281.0h.01M78.3 284.6h.01M78.4 288.2h.01M78.5 291.8h.01M78.7 295.3h.01M78.8 298.9h.01M78.9 302.5h.01M79.0 306.1h.01M79.1 309.7h.01M79.3 313.3h.01M79.4 316.9h.01M79.5 320.5h.01M79.6 324.1h.01M79.8 327.7h.01M79.9 331.3h.01M80.0 334.9h.01M80.1 338.5h.01M80.2 342.1h.01M80.4 345.7h.01M80.5 349.3h.01M80.6 352.9h.01M80.7 356.5h.01M80.9 360.1h.01M81.0 363.6h.01M81.1 367.2h.01M81.2 370.8h.01M81.3 374.4h.01M81.5 378.0h.01M81.6 381.6h.01M81.7 385.2h.01M81.8 388.8h.01M83.3 282.6h.01M83.4 286.2h.01M83.5 289.8h.01M83.6 293.4h.01M83.7 297.0h.01M83.9 300.6h.01M84.0 304.2h.01M84.1 307.8h.01M84.2 311.4h.01M84.3 315.0h.01M84.4 318.6h.01M84.6 322.2h.01M84.7 325.8h.01M84.8 329.3h.01M84.9 332.9h.01M85.0 336.5h.01M85.1 340.1h.01M85.3 343.7h.01M85.4 347.3h.01M85.5 350.9h.01M85.6 354.5h.01M85.7 358.1h.01M85.8 361.7h.01M85.9 365.3h.01M86.1 368.9h.01M86.2 372.5h.01M86.3 376.1h.01M86.4 379.7h.01M86.5 383.3h.01M86.6 386.8h.01M86.8 390.4h.01M88.4 284.3h.01M88.5 287.9h.01M88.6 291.5h.01M88.7 295.1h.01M88.8 298.7h.01M89.0 302.3h.01M89.1 305.9h.01M89.2 309.4h.01M89.3 313.0h.01M89.4 316.6h.01M89.5 320.2h.01M89.6 323.8h.01M89.7 327.4h.01M89.8 331.0h.01M89.9 334.6h.01M90.0 338.2h.01M90.2 341.8h.01M90.3 345.4h.01M90.4 349.0h.01M90.5 352.6h.01M90.6 356.1h.01M90.7 359.7h.01M90.8 363.3h.01M90.9 366.9h.01M91.0 370.5h.01M91.1 374.1h.01M91.2 377.7h.01M91.4 381.3h.01M91.5 384.9h.01M91.6 388.5h.01M91.7 392.1h.01M93.5 286.0h.01M93.6 289.6h.01M93.7 293.1h.01M93.8 296.7h.01M93.9 300.3h.01M94.0 303.9h.01M94.1 307.5h.01M94.2 311.1h.01M94.4 314.7h.01M94.5 318.3h.01M94.6 321.9h.01M94.7 325.5h.01M94.8 329.1h.01M94.9 332.7h.01M95.0 336.2h.01M95.1 339.8h.01M95.2 343.4h.01M95.3 347.0h.01M95.4 350.6h.01M95.5 354.2h.01M95.6 357.8h.01M95.7 361.4h.01M95.8 365.0h.01M95.9 368.6h.01M96.0 372.2h.01M96.1 375.7h.01M96.2 379.3h.01M96.3 382.9h.01M96.4 386.5h.01M96.5 390.1h.01M96.6 393.7h.01M98.7 287.6h.01M98.8 291.2h.01M98.8 294.8h.01M98.9 298.4h.01M99.0 302.0h.01M99.1 305.6h.01M99.2 309.2h.01M99.3 312.8h.01M99.4 316.4h.01M99.5 319.9h.01M99.6 323.5h.01M99.7 327.1h.01M99.8 330.7h.01M99.9 334.3h.01M100.0 337.9h.01M100.1 341.5h.01M100.2 345.1h.01M100.3 348.7h.01M100.4 352.3h.01M100.5 355.8h.01M100.6 359.4h.01M100.7 363.0h.01M100.8 366.6h.01M100.9 370.2h.01M100.9 373.8h.01M101.0 377.4h.01M101.1 381.0h.01M101.2 384.6h.01M101.3 388.2h.01M101.4 391.7h.01M101.5 395.3h.01M103.8 289.3h.01M103.9 292.9h.01M104.0 296.5h.01M104.0 300.1h.01M104.1 303.7h.01M104.2 307.2h.01M104.3 310.8h.01M104.4 314.4h.01M104.5 318.0h.01M104.6 321.6h.01M104.7 325.2h.01M104.8 328.8h.01M104.8 332.4h.01M104.9 336.0h.01M105.0 339.5h.01M105.1 343.1h.01M105.2 346.7h.01M105.3 350.3h.01M105.4 353.9h.01M105.5 357.5h.01M105.6 361.1h.01M105.6 364.7h.01M105.7 368.3h.01M105.8 371.8h.01M105.9 375.4h.01M106.0 379.0h.01M106.1 382.6h.01M106.2 386.2h.01M106.3 389.8h.01M106.4 393.4h.01M106.4 397.0h.01M108.9 291.0h.01M109.0 294.6h.01M109.1 298.1h.01M109.1 301.7h.01M109.2 305.3h.01M109.3 308.9h.01M109.4 312.5h.01M109.5 316.1h.01M109.6 319.7h.01M109.6 323.3h.01M109.7 326.8h.01M109.8 330.4h.01M109.9 334.0h.01M110.0 337.6h.01M110.0 341.2h.01M110.1 344.8h.01M110.2 348.4h.01M110.3 352.0h.01M110.4 355.5h.01M110.5 359.1h.01M110.5 362.7h.01M110.6 366.3h.01M110.7 369.9h.01M110.8 373.5h.01M110.9 377.1h.01M111.0 380.7h.01M111.0 384.2h.01M111.1 387.8h.01M111.2 391.4h.01M111.3 395.0h.01M111.4 398.6h.01M114.0 292.6h.01M114.1 296.2h.01M114.2 299.8h.01M114.3 303.4h.01M114.3 307.0h.01M114.4 310.6h.01M114.5 314.2h.01M114.6 317.7h.01M114.6 321.3h.01M114.7 324.9h.01M114.8 328.5h.01M114.9 332.1h.01M114.9 335.7h.01M115.0 339.3h.01M115.1 342.8h.01M115.2 346.4h.01M115.2 350.0h.01M115.3 353.6h.01M115.4 357.2h.01M115.5 360.8h.01M115.5 364.4h.01M115.6 367.9h.01M115.7 371.5h.01M115.8 375.1h.01M115.8 378.7h.01M115.9 382.3h.01M116.0 385.9h.01M116.1 389.5h.01M116.1 393.0h.01M116.2 396.6h.01M116.3 400.2h.01M119.1 294.3h.01M119.2 297.9h.01M119.3 301.5h.01M119.4 305.1h.01M119.4 308.6h.01M119.5 312.2h.01M119.6 315.8h.01M119.6 319.4h.01M119.7 323.0h.01M119.8 326.6h.01M119.8 330.2h.01M119.9 333.7h.01M120.0 337.3h.01M120.0 340.9h.01M120.1 344.5h.01M120.2 348.1h.01M120.2 351.7h.01M120.3 355.2h.01M120.4 358.8h.01M120.4 362.4h.01M120.5 366.0h.01M120.6 369.6h.01M120.7 373.2h.01M120.7 376.8h.01M120.8 380.3h.01M120.9 383.9h.01M120.9 387.5h.01M121.0 391.1h.01M121.1 394.7h.01M121.1 398.3h.01M121.2 401.9h.01M124.3 296.0h.01M124.3 299.6h.01M124.4 303.1h.01M124.5 306.7h.01M124.5 310.3h.01M124.6 313.9h.01M124.6 317.5h.01M124.7 321.1h.01M124.8 324.6h.01M124.8 328.2h.01M124.9 331.8h.01M125.0 335.4h.01M125.0 339.0h.01M125.1 342.6h.01M125.1 346.1h.01M125.2 349.7h.01M125.3 353.3h.01M125.3 356.9h.01M125.4 360.5h.01M125.4 364.1h.01M125.5 367.6h.01M125.6 371.2h.01M125.6 374.8h.01M125.7 378.4h.01M125.8 382.0h.01M125.8 385.6h.01M125.9 389.1h.01M125.9 392.7h.01M126.0 396.3h.01M126.1 399.9h.01M126.1 403.5h.01M129.4 297.6h.01M129.5 301.2h.01M129.5 304.8h.01M129.6 308.4h.01M129.6 312.0h.01M129.7 315.5h.01M129.7 319.1h.01M129.8 322.7h.01M129.8 326.3h.01M129.9 329.9h.01M129.9 333.5h.01M130.0 337.0h.01M130.1 340.6h.01M130.1 344.2h.01M130.2 347.8h.01M130.2 351.4h.01M130.3 355.0h.01M130.3 358.5h.01M130.4 362.1h.01M130.4 365.7h.01M130.5 369.3h.01M130.5 372.9h.01M130.6 376.4h.01M130.7 380.0h.01M130.7 383.6h.01M130.8 387.2h.01M130.8 390.8h.01M130.9 394.4h.01M130.9 397.9h.01M131.0 401.5h.01M131.0 405.1h.01M134.5 299.3h.01M134.6 302.9h.01M134.6 306.5h.01M134.7 310.0h.01M134.7 313.6h.01M134.8 317.2h.01M134.8 320.8h.01M134.9 324.4h.01M134.9 328.0h.01M135.0 331.5h.01M135.0 335.1h.01M135.0 338.7h.01M135.1 342.3h.01M135.1 345.9h.01M135.2 349.4h.01M135.2 353.0h.01M135.3 356.6h.01M135.3 360.2h.01M135.4 363.8h.01M135.4 367.3h.01M135.5 370.9h.01M135.5 374.5h.01M135.6 378.1h.01M135.6 381.7h.01M135.7 385.3h.01M135.7 388.8h.01M135.8 392.4h.01M135.8 396.0h.01M135.9 399.6h.01M135.9 403.2h.01M136.0 406.7h.01M139.6 301.0h.01M139.7 304.5h.01M139.7 308.1h.01M139.8 311.7h.01M139.8 315.3h.01M139.8 318.9h.01M139.9 322.4h.01M139.9 326.0h.01M140.0 329.6h.01M140.0 333.2h.01M140.1 336.8h.01M140.1 340.3h.01M140.1 343.9h.01M140.2 347.5h.01M140.2 351.1h.01M140.3 354.7h.01M140.3 358.2h.01M140.3 361.8h.01M140.4 365.4h.01M140.4 369.0h.01M140.5 372.6h.01M140.5 376.1h.01M140.6 379.7h.01M140.6 383.3h.01M140.6 386.9h.01M140.7 390.5h.01M140.7 394.0h.01M140.8 397.6h.01M140.8 401.2h.01M140.8 404.8h.01M140.9 408.4h.01M144.8 302.6h.01M144.8 306.2h.01M144.8 309.8h.01M144.9 313.4h.01M144.9 316.9h.01M144.9 320.5h.01M145.0 324.1h.01M145.0 327.7h.01M145.0 331.3h.01M145.1 334.8h.01M145.1 338.4h.01M145.1 342.0h.01M145.2 345.6h.01M145.2 349.2h.01M145.2 352.7h.01M145.3 356.3h.01M145.3 359.9h.01M145.4 363.5h.01M145.4 367.1h.01M145.4 370.6h.01M145.5 374.2h.01M145.5 377.8h.01M145.5 381.4h.01M145.6 384.9h.01M145.6 388.5h.01M145.6 392.1h.01M145.7 395.7h.01M145.7 399.3h.01M145.7 402.8h.01M145.8 406.4h.01M145.8 410.0h.01M149.9 304.3h.01M149.9 307.9h.01M149.9 311.5h.01M150.0 315.0h.01M150.0 318.6h.01M150.0 322.2h.01M150.1 325.8h.01M150.1 329.3h.01M150.1 332.9h.01M150.1 336.5h.01M150.2 340.1h.01M150.2 343.7h.01M150.2 347.2h.01M150.2 350.8h.01M150.3 354.4h.01M150.3 358.0h.01M150.3 361.5h.01M150.4 365.1h.01M150.4 368.7h.01M150.4 372.3h.01M150.4 375.9h.01M150.5 379.4h.01M150.5 383.0h.01M150.5 386.6h.01M150.6 390.2h.01M150.6 393.7h.01M150.6 397.3h.01M150.6 400.9h.01M150.7 404.5h.01M150.7 408.1h.01M150.7 411.6h.01M155.0 306.0h.01M155.0 309.5h.01M155.1 313.1h.01M155.1 316.7h.01M155.1 320.3h.01M155.1 323.8h.01M155.1 327.4h.01M155.2 331.0h.01M155.2 334.6h.01M155.2 338.2h.01M155.2 341.7h.01M155.2 345.3h.01M155.3 348.9h.01M155.3 352.5h.01M155.3 356.0h.01M155.3 359.6h.01M155.3 363.2h.01M155.4 366.8h.01M155.4 370.3h.01M155.4 373.9h.01M155.4 377.5h.01M155.5 381.1h.01M155.5 384.6h.01M155.5 388.2h.01M155.5 391.8h.01M155.5 395.4h.01M155.6 399.0h.01M155.6 402.5h.01M155.6 406.1h.01M155.6 409.7h.01M155.6 413.3h.01M160.1 307.6h.01M160.2 311.2h.01M160.2 314.8h.01M160.2 318.4h.01M160.2 321.9h.01M160.2 325.5h.01M160.2 329.1h.01M160.2 332.7h.01M160.2 336.2h.01M160.3 339.8h.01M160.3 343.4h.01M160.3 347.0h.01M160.3 350.5h.01M160.3 354.1h.01M160.3 357.7h.01M160.3 361.3h.01M160.4 364.8h.01M160.4 368.4h.01M160.4 372.0h.01M160.4 375.6h.01M160.4 379.1h.01M160.4 382.7h.01M160.4 386.3h.01M160.5 389.9h.01M160.5 393.4h.01M160.5 397.0h.01M160.5 400.6h.01M160.5 404.2h.01M160.5 407.7h.01M160.5 411.3h.01M160.6 414.9h.01M165.3 309.3h.01M165.3 312.9h.01M165.3 316.4h.01M165.3 320.0h.01M165.3 323.6h.01M165.3 327.2h.01M165.3 330.7h.01M165.3 334.3h.01M165.3 337.9h.01M165.3 341.5h.01M165.3 345.0h.01M165.3 348.6h.01M165.3 352.2h.01M165.4 355.8h.01M165.4 359.3h.01M165.4 362.9h.01M165.4 366.5h.01M165.4 370.1h.01M165.4 373.6h.01M165.4 377.2h.01M165.4 380.8h.01M165.4 384.4h.01M165.4 387.9h.01M165.4 391.5h.01M165.4 395.1h.01M165.4 398.6h.01M165.5 402.2h.01M165.5 405.8h.01M165.5 409.4h.01M165.5 412.9h.01M165.5 416.5h.01M170.4 311.0h.01M170.4 314.5h.01M170.4 318.1h.01M170.4 321.7h.01M170.4 325.3h.01M170.4 328.8h.01M170.4 332.4h.01M170.4 336.0h.01M170.4 339.5h.01M170.4 343.1h.01M170.4 346.7h.01M170.4 350.3h.01M170.4 353.8h.01M170.4 357.4h.01M170.4 361.0h.01M170.4 364.6h.01M170.4 368.1h.01M170.4 371.7h.01M170.4 375.3h.01M170.4 378.8h.01M170.4 382.4h.01M170.4 386.0h.01M170.4 389.6h.01M170.4 393.1h.01M170.4 396.7h.01M170.4 400.3h.01M170.4 403.9h.01M170.4 407.4h.01M170.4 411.0h.01M170.4 414.6h.01M170.4 418.1h.01M175.5 312.6h.01M175.5 316.2h.01M175.5 319.8h.01M175.5 323.3h.01M175.5 326.9h.01M175.5 330.5h.01M175.5 334.1h.01M175.5 337.6h.01M175.5 341.2h.01M175.5 344.8h.01M175.4 348.3h.01M175.4 351.9h.01M175.4 355.5h.01M175.4 359.1h.01M175.4 362.6h.01M175.4 366.2h.01M175.4 369.8h.01M175.4 373.3h.01M175.4 376.9h.01M175.4 380.5h.01M175.4 384.1h.01M175.4 387.6h.01M175.4 391.2h.01M175.4 394.8h.01M175.4 398.4h.01M175.4 401.9h.01M175.3 405.5h.01M175.3 409.1h.01M175.3 412.6h.01M175.3 416.2h.01M175.3 419.8h.01M180.6 314.3h.01M180.6 317.9h.01M180.6 321.4h.01M180.6 325.0h.01M180.6 328.6h.01M180.6 332.2h.01M180.6 335.7h.01M180.5 339.3h.01M180.5 342.9h.01M180.5 346.4h.01M180.5 350.0h.01M180.5 353.6h.01M180.5 357.1h.01M180.5 360.7h.01M180.4 364.3h.01M180.4 367.9h.01M180.4 371.4h.01M180.4 375.0h.01M180.4 378.6h.01M180.4 382.1h.01M180.4 385.7h.01M180.4 389.3h.01M180.3 392.8h.01M180.3 396.4h.01M180.3 400.0h.01M180.3 403.6h.01M180.3 407.1h.01M180.3 410.7h.01M180.3 414.3h.01M180.3 417.8h.01M180.2 421.4h.01M185.8 316.0h.01M185.7 319.5h.01M185.7 323.1h.01M185.7 326.7h.01M185.7 330.2h.01M185.7 333.8h.01M185.6 337.4h.01M185.6 341.0h.01M185.6 344.5h.01M185.6 348.1h.01M185.6 351.7h.01M185.5 355.2h.01M185.5 358.8h.01M185.5 362.4h.01M185.5 365.9h.01M185.5 369.5h.01M185.4 373.1h.01M185.4 376.6h.01M185.4 380.2h.01M185.4 383.8h.01M185.4 387.3h.01M185.3 390.9h.01M185.3 394.5h.01M185.3 398.1h.01M185.3 401.6h.01M185.3 405.2h.01M185.2 408.8h.01M185.2 412.3h.01M185.2 415.9h.01M185.2 419.5h.01M185.2 423.0h.01M190.9 317.6h.01M190.9 321.2h.01M190.8 324.8h.01M190.8 328.3h.01M190.8 331.9h.01M190.7 335.5h.01M190.7 339.0h.01M190.7 342.6h.01M190.7 346.2h.01M190.6 349.7h.01M190.6 353.3h.01M190.6 356.9h.01M190.6 360.4h.01M190.5 364.0h.01M190.5 367.6h.01M190.5 371.2h.01M190.5 374.7h.01M190.4 378.3h.01M190.4 381.9h.01M190.4 385.4h.01M190.3 389.0h.01M190.3 392.6h.01M190.3 396.1h.01M190.3 399.7h.01M190.2 403.3h.01M190.2 406.8h.01M190.2 410.4h.01M190.2 414.0h.01M190.1 417.5h.01M190.1 421.1h.01M190.1 424.7h.01M196.0 319.3h.01M196.0 322.9h.01M195.9 326.4h.01M195.9 330.0h.01M195.9 333.6h.01M195.8 337.1h.01M195.8 340.7h.01M195.8 344.3h.01M195.7 347.8h.01M195.7 351.4h.01M195.7 355.0h.01M195.6 358.5h.01M195.6 362.1h.01M195.6 365.7h.01M195.5 369.2h.01M195.5 372.8h.01M195.5 376.4h.01M195.4 379.9h.01M195.4 383.5h.01M195.4 387.1h.01M195.3 390.6h.01M195.3 394.2h.01M195.3 397.8h.01M195.2 401.3h.01M195.2 404.9h.01M195.2 408.5h.01M195.1 412.0h.01M195.1 415.6h.01M195.1 419.2h.01M195.0 422.7h.01M195.0 426.3h.01" stroke="#3a3a3a" stroke-opacity="0.72" stroke-width="1.1" stroke-linecap="round" fill="none"/>
<circle cx="103.6" cy="250.6" r="3.1" fill="#2a8e34" fill-opacity="0.85"/>
<circle cx="108.1" cy="252.2" r="3.1" fill="#2a8e34" fill-opacity="0.85"/>
<circle cx="113.2" cy="257.2" r="3.1" fill="#2a8e34" fill-opacity="0.85"/>
<circle cx="126.7" cy="257.2" r="3.1" fill="#2a8e34" fill-opacity="0.85"/>
<circle cx="95.7" cy="279.1" r="3.1" fill="#2a8e34" fill-opacity="0.85"/>
<circle cx="122.7" cy="287.1" r="3.1" fill="#2a8e34" fill-opacity="0.85"/>
<circle cx="131.1" cy="285.8" r="3.1" fill="#2a8e34" fill-opacity="0.85"/>
<circle cx="137" cy="291.1" r="3.1" fill="#2a8e34" fill-opacity="0.85"/>
<circle cx="136.4" cy="294.4" r="3.1" fill="#2a8e34" fill-opacity="0.85"/>
<circle cx="155" cy="269.2" r="3.1" fill="#2a8e34" fill-opacity="0.85"/>
<circle cx="158.3" cy="294.4" r="3.1" fill="#2a8e34" fill-opacity="0.85"/>
<circle cx="160" cy="295.1" r="3.1" fill="#2a8e34" fill-opacity="0.85"/>
<circle cx="155.3" cy="300.1" r="3.1" fill="#2a8e34" fill-opacity="0.85"/>
<circle cx="169.6" cy="302.4" r="3.1" fill="#2a8e34" fill-opacity="0.85"/>
<circle cx="169.6" cy="305.7" r="3.1" fill="#2a8e34" fill-opacity="0.85"/>
<circle cx="178.5" cy="305" r="3.1" fill="#2a8e34" fill-opacity="0.85"/>
<circle cx="213.4" cy="286.5" r="3.1" fill="#2a8e34" fill-opacity="0.85"/>
<circle cx="233.1" cy="295.9" r="3.1" fill="#2a8e34" fill-opacity="0.85"/>
<circle cx="233.1" cy="301.2" r="3.1" fill="#2a8e34" fill-opacity="0.85"/>
<circle cx="193.3" cy="311.8" r="3.1" fill="#2a8e34" fill-opacity="0.85"/>
<circle cx="217.8" cy="312.5" r="3.1" fill="#2a8e34" fill-opacity="0.85"/>
<circle cx="180.7" cy="305.9" r="3.1" fill="#2a8e34" fill-opacity="0.85"/>
<circle cx="202.6" cy="337.7" r="3.1" fill="#2a8e34" fill-opacity="0.85"/>
<circle cx="191.9" cy="335.7" r="3.1" fill="#2a8e34" fill-opacity="0.85"/>
<circle cx="226.2" cy="343.5" r="3.1" fill="#2a8e34" fill-opacity="0.85"/>
<circle cx="155.7" cy="331.5" r="3.1" fill="#2a8e34" fill-opacity="0.85"/>
<circle cx="191.9" cy="336.8" r="3.1" fill="#2a8e34" fill-opacity="0.85"/>
<circle cx="183.1" cy="340.4" r="3.1" fill="#2a8e34" fill-opacity="0.85"/>
<circle cx="202.6" cy="339.5" r="3.1" fill="#2a8e34" fill-opacity="0.85"/>
<circle cx="226.5" cy="343" r="3.1" fill="#2a8e34" fill-opacity="0.85"/>
<circle cx="207" cy="347.4" r="3.1" fill="#2a8e34" fill-opacity="0.85"/>
<circle cx="216.7" cy="347.4" r="3.1" fill="#2a8e34" fill-opacity="0.85"/>
<circle cx="145.9" cy="348.3" r="3.1" fill="#2a8e34" fill-opacity="0.85"/>
<circle cx="150.4" cy="346.5" r="3.1" fill="#2a8e34" fill-opacity="0.85"/>
<circle cx="142.4" cy="352.7" r="3.1" fill="#2a8e34" fill-opacity="0.85"/>
<circle cx="173.4" cy="353.6" r="3.1" fill="#2a8e34" fill-opacity="0.85"/>
<circle cx="183.1" cy="357.2" r="3.1" fill="#2a8e34" fill-opacity="0.85"/>
<circle cx="199.9" cy="362.5" r="3.1" fill="#2a8e34" fill-opacity="0.85"/>
<circle cx="202.6" cy="363.4" r="3.1" fill="#2a8e34" fill-opacity="0.85"/>
<circle cx="215.8" cy="377.5" r="3.1" fill="#2a8e34" fill-opacity="0.85"/>
<circle cx="114.3" cy="314.2" r="3.3" fill="#2e9a36" fill-opacity="0.4"/>
<circle cx="121.4" cy="317.7" r="3.3" fill="#2e9a36" fill-opacity="0.4"/>
<circle cx="142.1" cy="211.4" r="3.2" fill="#2c20f0" fill-opacity="0.82"/>
<circle cx="242.6" cy="257" r="3.2" fill="#2c20f0" fill-opacity="0.82"/>
<circle cx="164.3" cy="274.5" r="3.2" fill="#2c20f0" fill-opacity="0.82"/>
<circle cx="155.1" cy="281.2" r="3.2" fill="#2c20f0" fill-opacity="0.82"/>
<circle cx="147" cy="294.4" r="3.2" fill="#2c20f0" fill-opacity="0.82"/>
<circle cx="168.6" cy="295.1" r="3.2" fill="#2c20f0" fill-opacity="0.82"/>
<circle cx="177.2" cy="297.5" r="3.2" fill="#2c20f0" fill-opacity="0.82"/>
<circle cx="190.9" cy="298.4" r="3.2" fill="#2c20f0" fill-opacity="0.82"/>
<circle cx="203.7" cy="307.7" r="3.2" fill="#2c20f0" fill-opacity="0.82"/>
<circle cx="190.6" cy="298.6" r="3.2" fill="#2c20f0" fill-opacity="0.82"/>
<circle cx="213.2" cy="311.2" r="3.2" fill="#2c20f0" fill-opacity="0.82"/>
<circle cx="227.1" cy="309.2" r="3.2" fill="#2c20f0" fill-opacity="0.82"/>
<circle cx="217.8" cy="317.1" r="3.2" fill="#2c20f0" fill-opacity="0.82"/>
<circle cx="208.5" cy="320.5" r="3.2" fill="#2c20f0" fill-opacity="0.82"/>
<circle cx="213.2" cy="321.1" r="3.2" fill="#2c20f0" fill-opacity="0.82"/>
<circle cx="222.5" cy="324.4" r="3.2" fill="#2c20f0" fill-opacity="0.82"/>
<circle cx="231.1" cy="326.4" r="3.2" fill="#2c20f0" fill-opacity="0.82"/>
<circle cx="250" cy="323.1" r="3.2" fill="#2c20f0" fill-opacity="0.82"/>
<circle cx="258.9" cy="325.8" r="3.2" fill="#2c20f0" fill-opacity="0.82"/>
<circle cx="182.7" cy="308.5" r="3.2" fill="#2c20f0" fill-opacity="0.82"/>
<circle cx="186.6" cy="311.8" r="3.2" fill="#2c20f0" fill-opacity="0.82"/>
<circle cx="222.3" cy="324.9" r="3.2" fill="#2c20f0" fill-opacity="0.82"/>
<circle cx="130.3" cy="343.4" r="3.4" fill="#f01a1a"/>
<circle cx="165" cy="386.9" r="3.4" fill="#f01a1a"/>
<circle cx="112.5" cy="398.4" r="3.4" fill="#f01a1a"/>
<circle cx="48.5" cy="285" r="3.3" fill="#e04060" fill-opacity="0.6"/>
<circle cx="68.3" cy="327.4" r="3.3" fill="#e04060" fill-opacity="0.6"/>
<circle cx="165" cy="414.5" r="3.3" fill="#c03a50" fill-opacity="0.8"/>
<polygon points="90.8,232.6 236.4,277.4 235.4,380.7 92.7,336" fill="none" stroke="#6ab245" stroke-width="2.3" stroke-linejoin="miter"/>
<polygon points="132.2,197.8 275.6,239.1 274.1,343.1 134.3,302.9" fill="none" stroke="#3d7fc4" stroke-width="2.6" stroke-linejoin="miter"/>
<polygon points="42.3,269.3 196,319.3 195,426.3 47.4,377.4" fill="none" stroke="#e8231e" stroke-width="2.8" stroke-linejoin="miter"/>
<line x1="42.3" y1="269.3" x2="132.2" y2="197.8" stroke="#000" stroke-width="3.9" stroke-dasharray="10.63 3.73"/>
<line x1="196" y1="319.3" x2="275.6" y2="239.1" stroke="#000" stroke-width="3.9" stroke-dasharray="10.45 3.67"/>
<line x1="195" y1="426.3" x2="274.1" y2="343.1" stroke="#000" stroke-width="3.9" stroke-dasharray="10.62 3.73"/>
<line x1="47.4" y1="377.4" x2="134.3" y2="302.9" stroke="#000" stroke-width="3.9" stroke-dasharray="10.59 3.72"/>
<path d="M43.9 386L198.2 437.6L277.4 349.7" stroke="#888" stroke-width="0.9" fill="none"/>
<path d="M44 384L198.2 435.4L276 349" stroke="#e6e6e6" stroke-width="1.6" fill="none"/>
<path d="M277.4 349.7L282.6 228" stroke="#888" stroke-width="0.9" fill="none"/>
<line x1="43.9" y1="386.0" x2="42.4" y2="388.5" stroke="#555" stroke-width="0.8"/>
<text x="41.8" y="401.7" text-anchor="middle" font-family="Liberation Sans" font-size="9.2" fill="#222" textLength="4.9" lengthAdjust="spacingAndGlyphs">0</text>
<line x1="280.8" y1="342.2" x2="285.3" y2="342.2" stroke="#555" stroke-width="0.8"/>
<text x="286.2" y="349.2" font-family="Liberation Sans" font-size="9.2" fill="#222" textLength="4.9" lengthAdjust="spacingAndGlyphs">0</text>
<line x1="69.6" y1="394.6" x2="68.1" y2="397.1" stroke="#555" stroke-width="0.8"/>
<text x="65.5" y="410.0" text-anchor="middle" font-family="Liberation Sans" font-size="9.2" fill="#222" textLength="4.9" lengthAdjust="spacingAndGlyphs">5</text>
<line x1="280.9" y1="325.1" x2="285.4" y2="325.1" stroke="#555" stroke-width="0.8"/>
<text x="286.2" y="332.1" font-family="Liberation Sans" font-size="9.2" fill="#222" textLength="4.9" lengthAdjust="spacingAndGlyphs">5</text>
<line x1="95.3" y1="403.2" x2="93.8" y2="405.7" stroke="#555" stroke-width="0.8"/>
<text x="89.1" y="418.3" text-anchor="middle" font-family="Liberation Sans" font-size="9.2" fill="#222" textLength="9.8" lengthAdjust="spacingAndGlyphs">10</text>
<line x1="280.9" y1="307.9" x2="285.4" y2="307.9" stroke="#555" stroke-width="0.8"/>
<text x="286.2" y="314.9" font-family="Liberation Sans" font-size="9.2" fill="#222" textLength="9.8" lengthAdjust="spacingAndGlyphs">10</text>
<line x1="121.1" y1="411.8" x2="119.6" y2="414.3" stroke="#555" stroke-width="0.8"/>
<text x="112.8" y="426.6" text-anchor="middle" font-family="Liberation Sans" font-size="9.2" fill="#222" textLength="9.8" lengthAdjust="spacingAndGlyphs">15</text>
<line x1="281.0" y1="290.8" x2="285.5" y2="290.8" stroke="#555" stroke-width="0.8"/>
<text x="286.2" y="297.8" font-family="Liberation Sans" font-size="9.2" fill="#222" textLength="9.8" lengthAdjust="spacingAndGlyphs">15</text>
<line x1="146.8" y1="420.4" x2="145.3" y2="422.9" stroke="#555" stroke-width="0.8"/>
<text x="136.5" y="434.9" text-anchor="middle" font-family="Liberation Sans" font-size="9.2" fill="#222" textLength="9.8" lengthAdjust="spacingAndGlyphs">20</text>
<line x1="281.1" y1="273.6" x2="285.6" y2="273.6" stroke="#555" stroke-width="0.8"/>
<text x="286.2" y="280.6" font-family="Liberation Sans" font-size="9.2" fill="#222" textLength="9.8" lengthAdjust="spacingAndGlyphs">20</text>
<line x1="172.5" y1="429.0" x2="171.0" y2="431.5" stroke="#555" stroke-width="0.8"/>
<text x="160.1" y="443.2" text-anchor="middle" font-family="Liberation Sans" font-size="9.2" fill="#222" textLength="9.8" lengthAdjust="spacingAndGlyphs">25</text>
<line x1="281.1" y1="256.4" x2="285.6" y2="256.4" stroke="#555" stroke-width="0.8"/>
<text x="286.2" y="263.4" font-family="Liberation Sans" font-size="9.2" fill="#222" textLength="9.8" lengthAdjust="spacingAndGlyphs">25</text>
<line x1="198.2" y1="437.6" x2="196.7" y2="440.1" stroke="#555" stroke-width="0.8"/>
<text x="183.8" y="451.5" text-anchor="middle" font-family="Liberation Sans" font-size="9.2" fill="#222" textLength="9.8" lengthAdjust="spacingAndGlyphs">30</text>
<line x1="281.2" y1="239.3" x2="285.7" y2="239.3" stroke="#555" stroke-width="0.8"/>
<text x="286.2" y="246.3" font-family="Liberation Sans" font-size="9.2" fill="#222" textLength="9.8" lengthAdjust="spacingAndGlyphs">30</text>
<text x="284.7" y="361.5" font-family="Liberation Sans" font-weight="bold" font-size="16.3" fill="#3a28e4" stroke="#3a28e4" stroke-width="0.35" textLength="82.3" lengthAdjust="spacingAndGlyphs">XRD mesh</text>
<text x="252" y="401.5" font-family="Liberation Sans" font-weight="bold" font-size="16.3" fill="#6eb048" stroke="#6eb048" stroke-width="0.35" textLength="115" lengthAdjust="spacingAndGlyphs">Property mesh</text>
<text x="209.3" y="443.9" font-family="Liberation Sans" font-weight="bold" font-size="16.3" fill="#e8281e" stroke="#e8281e" stroke-width="0.35" textLength="90.6" lengthAdjust="spacingAndGlyphs">Label mesh</text>
</svg></body></html>
